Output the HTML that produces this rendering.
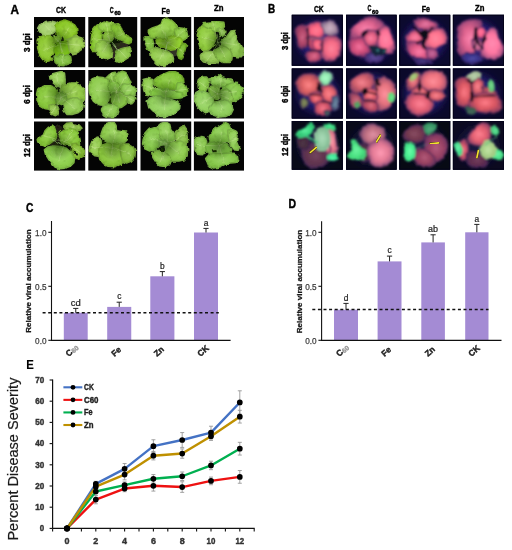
<!DOCTYPE html>
<html><head><meta charset="utf-8"><title>Figure</title>
<style>
html,body{margin:0;padding:0;background:#fff;}
body{width:512px;height:550px;overflow:hidden;}
svg{display:block;font-family:'Liberation Sans', Arial, sans-serif;}
</style></head>
<body>
<svg width="512" height="550" viewBox="0 0 512 550">
<rect width="512" height="550" fill="#fff"/>
<text x="10.6" y="13.9" font-size="12.8" font-weight="bold" text-anchor="start" fill="#000" textLength="8.5" lengthAdjust="spacingAndGlyphs"  stroke="#000" stroke-width="0.4">A</text>
<text x="267.9" y="13.1" font-size="12.8" font-weight="bold" text-anchor="start" fill="#000" textLength="7.2" lengthAdjust="spacingAndGlyphs"  stroke="#000" stroke-width="0.4">B</text>
<text x="26.1" y="211.7" font-size="12.2" font-weight="bold" text-anchor="start" fill="#000" textLength="7.4" lengthAdjust="spacingAndGlyphs"  stroke="#000" stroke-width="0.4">C</text>
<text x="288.5" y="207.5" font-size="12" font-weight="bold" text-anchor="start" fill="#000" textLength="7.6" lengthAdjust="spacingAndGlyphs"  stroke="#000" stroke-width="0.4">D</text>
<text x="26.2" y="369" font-size="12.7" font-weight="bold" text-anchor="start" fill="#000" textLength="7.6" lengthAdjust="spacingAndGlyphs" stroke="#000" stroke-width="0.1">E</text>
<text x="55.9" y="12.5" font-size="8.4" font-weight="bold" text-anchor="start" fill="#000" textLength="10" lengthAdjust="spacingAndGlyphs"  stroke="#000" stroke-width="0.4">CK</text>
<text x="109.7" y="12.5" font-size="8.6" font-weight="bold" text-anchor="start" fill="#000" textLength="3.9" lengthAdjust="spacingAndGlyphs"  stroke="#000" stroke-width="0.4">C</text>
<text x="114.4" y="14.7" font-size="5.4" font-weight="bold" text-anchor="start" fill="#000" textLength="6.4" lengthAdjust="spacingAndGlyphs"  stroke="#000" stroke-width="0.4">60</text>
<text x="161.5" y="13.7" font-size="8.6" font-weight="bold" text-anchor="start" fill="#000" textLength="8.4" lengthAdjust="spacingAndGlyphs"  stroke="#000" stroke-width="0.4">Fe</text>
<text x="213.9" y="10.9" font-size="8.2" font-weight="bold" text-anchor="start" fill="#000" textLength="9.5" lengthAdjust="spacingAndGlyphs"  stroke="#000" stroke-width="0.4">Zn</text>
<text x="313.9" y="11.85" font-size="8.2" font-weight="bold" text-anchor="start" fill="#000" textLength="9.8" lengthAdjust="spacingAndGlyphs"  stroke="#000" stroke-width="0.4">CK</text>
<text x="367.4" y="10.8" font-size="8.6" font-weight="bold" text-anchor="start" fill="#000" textLength="3.9" lengthAdjust="spacingAndGlyphs"  stroke="#000" stroke-width="0.4">C</text>
<text x="372.1" y="13.8" font-size="5.4" font-weight="bold" text-anchor="start" fill="#000" textLength="6.4" lengthAdjust="spacingAndGlyphs"  stroke="#000" stroke-width="0.4">60</text>
<text x="421.7" y="12.4" font-size="8.2" font-weight="bold" text-anchor="start" fill="#000" textLength="8.3" lengthAdjust="spacingAndGlyphs"  stroke="#000" stroke-width="0.4">Fe</text>
<text x="475" y="10.5" font-size="8.8" font-weight="bold" text-anchor="start" fill="#000" textLength="9.4" lengthAdjust="spacingAndGlyphs"  stroke="#000" stroke-width="0.4">Zn</text>
<text transform="translate(29.6,42.6) rotate(-90)" font-size="8.8" font-weight="bold" text-anchor="middle" fill="#000" textLength="18.8" lengthAdjust="spacingAndGlyphs"  stroke="#000" stroke-width="0.4">3 dpi</text>
<text transform="translate(29.6,94.4) rotate(-90)" font-size="8.8" font-weight="bold" text-anchor="middle" fill="#000" textLength="18.5" lengthAdjust="spacingAndGlyphs"  stroke="#000" stroke-width="0.4">6 dpi</text>
<text transform="translate(29.6,145.5) rotate(-90)" font-size="8.8" font-weight="bold" text-anchor="middle" fill="#000" textLength="23" lengthAdjust="spacingAndGlyphs"  stroke="#000" stroke-width="0.4">12 dpi</text>
<text transform="translate(287.6,41.1) rotate(-90)" font-size="8.8" font-weight="bold" text-anchor="middle" fill="#000" textLength="18" lengthAdjust="spacingAndGlyphs"  stroke="#000" stroke-width="0.4">3 dpi</text>
<text transform="translate(287.6,94.3) rotate(-90)" font-size="8.8" font-weight="bold" text-anchor="middle" fill="#000" textLength="17" lengthAdjust="spacingAndGlyphs"  stroke="#000" stroke-width="0.4">6 dpi</text>
<text transform="translate(287.6,144.9) rotate(-90)" font-size="8.8" font-weight="bold" text-anchor="middle" fill="#000" textLength="22" lengthAdjust="spacingAndGlyphs"  stroke="#000" stroke-width="0.4">12 dpi</text>
<rect x="34" y="17" width="51.20" height="50.20" fill="#040404"/>
<rect x="88.3" y="17" width="48.90" height="50.20" fill="#040404"/>
<rect x="140.5" y="17" width="50.70" height="50.20" fill="#040404"/>
<rect x="193.9" y="17" width="50.10" height="50.20" fill="#040404"/>
<rect x="34" y="70" width="51.20" height="48.50" fill="#040404"/>
<rect x="88.3" y="70" width="48.90" height="48.50" fill="#040404"/>
<rect x="140.5" y="70" width="50.70" height="48.50" fill="#040404"/>
<rect x="193.9" y="70" width="50.10" height="48.50" fill="#040404"/>
<rect x="34" y="121.5" width="51.20" height="49.10" fill="#040404"/>
<rect x="88.3" y="121.5" width="48.90" height="49.10" fill="#040404"/>
<rect x="140.5" y="121.5" width="50.70" height="49.10" fill="#040404"/>
<rect x="193.9" y="121.5" width="50.10" height="49.10" fill="#040404"/>
<rect x="291.8" y="14.8" width="51.00" height="50.90" fill="#0a0620"/>
<rect x="346.1" y="14.8" width="50.50" height="50.90" fill="#0a0620"/>
<rect x="399.3" y="14.8" width="50.90" height="50.90" fill="#0a0620"/>
<rect x="452.9" y="14.8" width="51.10" height="50.90" fill="#0a0620"/>
<rect x="291.8" y="68.5" width="51.00" height="50.00" fill="#0a0620"/>
<rect x="346.1" y="68.5" width="50.50" height="50.00" fill="#0a0620"/>
<rect x="399.3" y="68.5" width="50.90" height="50.00" fill="#0a0620"/>
<rect x="452.9" y="68.5" width="51.10" height="50.00" fill="#0a0620"/>
<rect x="291.8" y="121" width="51.00" height="48.70" fill="#0a0620"/>
<rect x="346.1" y="121" width="50.50" height="48.70" fill="#0a0620"/>
<rect x="399.3" y="121" width="50.90" height="48.70" fill="#0a0620"/>
<rect x="452.9" y="121" width="51.10" height="48.70" fill="#0a0620"/>
<defs><filter id="fa" x="-10%" y="-10%" width="120%" height="120%"><feGaussianBlur stdDeviation="6"/></filter><filter id="fw" x="-10%" y="-10%" width="120%" height="120%"><feTurbulence type="fractalNoise" baseFrequency="0.015" numOctaves="2" seed="3" result="n"/><feDisplacementMap in="SourceGraphic" in2="n" scale="34" xChannelSelector="R" yChannelSelector="G" result="d"/><feTurbulence type="fractalNoise" baseFrequency="0.025" numOctaves="1" seed="7" result="t"/><feColorMatrix in="t" type="matrix" values="0 0 0 0 0.05  0 0 0 0 0.12  0 0 0 0 0  1.1 0 0 0 -0.6" result="ta"/><feColorMatrix in="t" type="matrix" values="0 0 0 0 0.85  0 0 0 0 0.95  0 0 0 0 0.6  -1.0 0 0 0 0.32" result="tb"/><feComposite in="ta" in2="d" operator="in" result="tm"/><feComposite in="tb" in2="d" operator="in" result="tn"/><feMerge result="m"><feMergeNode in="d"/><feMergeNode in="tm"/><feMergeNode in="tn"/></feMerge><feGaussianBlur in="m" stdDeviation="7"/></filter><filter id="fb" x="-10%" y="-10%" width="120%" height="120%"><feTurbulence type="fractalNoise" baseFrequency="0.012" numOctaves="2" seed="11" result="n"/><feDisplacementMap in="SourceGraphic" in2="n" scale="30" xChannelSelector="R" yChannelSelector="G" result="d"/><feGaussianBlur in="d" stdDeviation="9"/></filter><filter id="fg" x="-30%" y="-30%" width="160%" height="160%"><feGaussianBlur stdDeviation="40"/></filter><radialGradient id="cshad"><stop offset="0" stop-color="#143000" stop-opacity="0.5"/><stop offset="1" stop-color="#143000" stop-opacity="0"/></radialGradient><radialGradient id="g0" cx="50%" cy="45%" r="60%"><stop offset="0" stop-color="#b6db84"/><stop offset="0.6" stop-color="#a7d16f"/><stop offset="1" stop-color="#93bc5d"/></radialGradient><radialGradient id="g1" cx="50%" cy="45%" r="60%"><stop offset="0" stop-color="#9dd344"/><stop offset="0.6" stop-color="#8cc929"/><stop offset="1" stop-color="#7ab519"/></radialGradient><radialGradient id="g2" cx="50%" cy="45%" r="60%"><stop offset="0" stop-color="#a3d756"/><stop offset="0.6" stop-color="#93cd3c"/><stop offset="1" stop-color="#80b92c"/></radialGradient><radialGradient id="g3" cx="50%" cy="45%" r="60%"><stop offset="0" stop-color="#a0d34e"/><stop offset="0.6" stop-color="#90c934"/><stop offset="1" stop-color="#7db524"/></radialGradient><radialGradient id="g4" cx="50%" cy="45%" r="60%"><stop offset="0" stop-color="#91d037"/><stop offset="0.6" stop-color="#7fc61b"/><stop offset="1" stop-color="#6db20c"/></radialGradient><radialGradient id="g5" cx="50%" cy="45%" r="60%"><stop offset="0" stop-color="#acd769"/><stop offset="0.6" stop-color="#9ccd51"/><stop offset="1" stop-color="#89b940"/></radialGradient><radialGradient id="g6" cx="50%" cy="45%" r="60%"><stop offset="0" stop-color="#92c859"/><stop offset="0.6" stop-color="#82be42"/><stop offset="1" stop-color="#71ab32"/></radialGradient><radialGradient id="g7" cx="50%" cy="45%" r="60%"><stop offset="0" stop-color="#9cd34e"/><stop offset="0.6" stop-color="#8bc934"/><stop offset="1" stop-color="#79b524"/></radialGradient><radialGradient id="g8" cx="50%" cy="45%" r="60%"><stop offset="0" stop-color="#a3d760"/><stop offset="0.6" stop-color="#92cd47"/><stop offset="1" stop-color="#7fb936"/></radialGradient><radialGradient id="g9" cx="50%" cy="45%" r="60%"><stop offset="0" stop-color="#9bd353"/><stop offset="0.6" stop-color="#8ac939"/><stop offset="1" stop-color="#78b529"/></radialGradient><radialGradient id="g10" cx="50%" cy="45%" r="60%"><stop offset="0" stop-color="#a8db5e"/><stop offset="0.6" stop-color="#97d145"/><stop offset="1" stop-color="#84bc34"/></radialGradient><radialGradient id="g11" cx="50%" cy="45%" r="60%"><stop offset="0" stop-color="#abdb68"/><stop offset="0.6" stop-color="#9bd150"/><stop offset="1" stop-color="#88bc3f"/></radialGradient><radialGradient id="g12" cx="50%" cy="45%" r="60%"><stop offset="0" stop-color="#9fd061"/><stop offset="0.6" stop-color="#8fc64a"/><stop offset="1" stop-color="#7db23a"/></radialGradient><radialGradient id="g13" cx="50%" cy="45%" r="60%"><stop offset="0" stop-color="#a3d760"/><stop offset="0.6" stop-color="#92cd47"/><stop offset="1" stop-color="#7fb936"/></radialGradient><radialGradient id="g14" cx="50%" cy="45%" r="60%"><stop offset="0" stop-color="#9ed360"/><stop offset="0.6" stop-color="#8ec948"/><stop offset="1" stop-color="#7cb538"/></radialGradient><radialGradient id="g15" cx="50%" cy="45%" r="60%"><stop offset="0" stop-color="#a5db4d"/><stop offset="0.6" stop-color="#94d131"/><stop offset="1" stop-color="#81bc21"/></radialGradient><radialGradient id="g16" cx="50%" cy="45%" r="60%"><stop offset="0" stop-color="#92cc59"/><stop offset="0.6" stop-color="#81c241"/><stop offset="1" stop-color="#6faf31"/></radialGradient><radialGradient id="g17" cx="50%" cy="45%" r="60%"><stop offset="0" stop-color="#a6d769"/><stop offset="0.6" stop-color="#96cd51"/><stop offset="1" stop-color="#83b940"/></radialGradient><radialGradient id="g18" cx="50%" cy="45%" r="60%"><stop offset="0" stop-color="#8bc347"/><stop offset="0.6" stop-color="#7bba2f"/><stop offset="1" stop-color="#6aa720"/></radialGradient><radialGradient id="g19" cx="50%" cy="45%" r="60%"><stop offset="0" stop-color="#a3d75b"/><stop offset="0.6" stop-color="#93cd42"/><stop offset="1" stop-color="#80b931"/></radialGradient><radialGradient id="g20" cx="50%" cy="45%" r="60%"><stop offset="0" stop-color="#9ed360"/><stop offset="0.6" stop-color="#8ec948"/><stop offset="1" stop-color="#7cb538"/></radialGradient><radialGradient id="g21" cx="50%" cy="45%" r="60%"><stop offset="0" stop-color="#aadb71"/><stop offset="0.6" stop-color="#9ad15a"/><stop offset="1" stop-color="#87bc48"/></radialGradient><radialGradient id="g22" cx="50%" cy="45%" r="60%"><stop offset="0" stop-color="#a2d36a"/><stop offset="0.6" stop-color="#92c953"/><stop offset="1" stop-color="#7fb542"/></radialGradient><radialGradient id="g23" cx="50%" cy="45%" r="60%"><stop offset="0" stop-color="#a6d36e"/><stop offset="0.6" stop-color="#97c958"/><stop offset="1" stop-color="#84b547"/></radialGradient><radialGradient id="g24" cx="50%" cy="45%" r="60%"><stop offset="0" stop-color="#9bcc61"/><stop offset="0.6" stop-color="#8bc24b"/><stop offset="1" stop-color="#79af3b"/></radialGradient><radialGradient id="g25" cx="50%" cy="45%" r="60%"><stop offset="0" stop-color="#aadb71"/><stop offset="0.6" stop-color="#9ad15a"/><stop offset="1" stop-color="#87bc48"/></radialGradient><radialGradient id="g26" cx="50%" cy="45%" r="60%"><stop offset="0" stop-color="#9bd357"/><stop offset="0.6" stop-color="#8ac93e"/><stop offset="1" stop-color="#78b52e"/></radialGradient><radialGradient id="g27" cx="50%" cy="45%" r="60%"><stop offset="0" stop-color="#a3d360"/><stop offset="0.6" stop-color="#93c948"/><stop offset="1" stop-color="#80b538"/></radialGradient><radialGradient id="g28" cx="50%" cy="45%" r="60%"><stop offset="0" stop-color="#9ad061"/><stop offset="0.6" stop-color="#8ac64a"/><stop offset="1" stop-color="#78b23a"/></radialGradient><radialGradient id="g29" cx="50%" cy="45%" r="60%"><stop offset="0" stop-color="#a2d36a"/><stop offset="0.6" stop-color="#92c953"/><stop offset="1" stop-color="#7fb542"/></radialGradient><radialGradient id="g30" cx="50%" cy="45%" r="60%"><stop offset="0" stop-color="#9fcc61"/><stop offset="0.6" stop-color="#90c24b"/><stop offset="1" stop-color="#7eaf3b"/></radialGradient><radialGradient id="g31" cx="50%" cy="45%" r="60%"><stop offset="0" stop-color="#a2d769"/><stop offset="0.6" stop-color="#91cd51"/><stop offset="1" stop-color="#7eb940"/></radialGradient><radialGradient id="g32" cx="50%" cy="45%" r="60%"><stop offset="0" stop-color="#9ad061"/><stop offset="0.6" stop-color="#8ac64a"/><stop offset="1" stop-color="#78b23a"/></radialGradient><radialGradient id="g33" cx="50%" cy="45%" r="60%"><stop offset="0" stop-color="#9dd364"/><stop offset="0.6" stop-color="#8dc94d"/><stop offset="1" stop-color="#7bb53c"/></radialGradient><radialGradient id="g34" cx="50%" cy="45%" r="60%"><stop offset="0" stop-color="#a2d76d"/><stop offset="0.6" stop-color="#91cd56"/><stop offset="1" stop-color="#7eb945"/></radialGradient><radialGradient id="g35" cx="50%" cy="45%" r="60%"><stop offset="0" stop-color="#9ad360"/><stop offset="0.6" stop-color="#89c948"/><stop offset="1" stop-color="#77b538"/></radialGradient><radialGradient id="g36" cx="50%" cy="45%" r="60%"><stop offset="0" stop-color="#96cc5d"/><stop offset="0.6" stop-color="#86c246"/><stop offset="1" stop-color="#74af36"/></radialGradient><radialGradient id="g37" cx="50%" cy="45%" r="60%"><stop offset="0" stop-color="#9acc66"/><stop offset="0.6" stop-color="#8ac250"/><stop offset="1" stop-color="#78af40"/></radialGradient><radialGradient id="g38" cx="50%" cy="45%" r="60%"><stop offset="0" stop-color="#9ed36a"/><stop offset="0.6" stop-color="#8dc953"/><stop offset="1" stop-color="#7bb542"/></radialGradient><radialGradient id="g39" cx="50%" cy="45%" r="60%"><stop offset="0" stop-color="#a2d769"/><stop offset="0.6" stop-color="#91cd51"/><stop offset="1" stop-color="#7eb940"/></radialGradient><radialGradient id="g40" cx="50%" cy="45%" r="60%"><stop offset="0" stop-color="#97d053"/><stop offset="0.6" stop-color="#86c63a"/><stop offset="1" stop-color="#74b22a"/></radialGradient><radialGradient id="g41" cx="50%" cy="45%" r="60%"><stop offset="0" stop-color="#9ad360"/><stop offset="0.6" stop-color="#89c948"/><stop offset="1" stop-color="#77b538"/></radialGradient><radialGradient id="g42" cx="50%" cy="45%" r="60%"><stop offset="0" stop-color="#9edb64"/><stop offset="0.6" stop-color="#8cd14b"/><stop offset="1" stop-color="#79bc3a"/></radialGradient><radialGradient id="g43" cx="50%" cy="45%" r="60%"><stop offset="0" stop-color="#a5db76"/><stop offset="0.6" stop-color="#94d15f"/><stop offset="1" stop-color="#81bc4d"/></radialGradient><radialGradient id="g44" cx="50%" cy="45%" r="60%"><stop offset="0" stop-color="#9dd364"/><stop offset="0.6" stop-color="#8dc94d"/><stop offset="1" stop-color="#7bb53c"/></radialGradient><radialGradient id="g45" cx="50%" cy="45%" r="60%"><stop offset="0" stop-color="#9ed36a"/><stop offset="0.6" stop-color="#8dc953"/><stop offset="1" stop-color="#7bb542"/></radialGradient><radialGradient id="g46" cx="50%" cy="45%" r="60%"><stop offset="0" stop-color="#99d364"/><stop offset="0.6" stop-color="#88c94d"/><stop offset="1" stop-color="#76b53c"/></radialGradient><radialGradient id="g47" cx="50%" cy="45%" r="60%"><stop offset="0" stop-color="#9ad061"/><stop offset="0.6" stop-color="#8ac64a"/><stop offset="1" stop-color="#78b23a"/></radialGradient><radialGradient id="g48" cx="50%" cy="45%" r="60%"><stop offset="0" stop-color="#9ed36a"/><stop offset="0.6" stop-color="#8dc953"/><stop offset="1" stop-color="#7bb542"/></radialGradient><radialGradient id="g49" cx="50%" cy="45%" r="60%"><stop offset="0" stop-color="#a5db76"/><stop offset="0.6" stop-color="#94d15f"/><stop offset="1" stop-color="#81bc4d"/></radialGradient><radialGradient id="g50" cx="50%" cy="45%" r="60%"><stop offset="0" stop-color="#a1d772"/><stop offset="0.6" stop-color="#90cd5c"/><stop offset="1" stop-color="#7db94b"/></radialGradient><radialGradient id="g51" cx="50%" cy="45%" r="60%"><stop offset="0" stop-color="#9bd357"/><stop offset="0.6" stop-color="#8ac93e"/><stop offset="1" stop-color="#78b52e"/></radialGradient><radialGradient id="g52" cx="50%" cy="45%" r="60%"><stop offset="0" stop-color="#9fcc61"/><stop offset="0.6" stop-color="#90c24b"/><stop offset="1" stop-color="#7eaf3b"/></radialGradient><radialGradient id="g53" cx="50%" cy="45%" r="60%"><stop offset="0" stop-color="#9bd357"/><stop offset="0.6" stop-color="#8ac93e"/><stop offset="1" stop-color="#78b52e"/></radialGradient><radialGradient id="g54" cx="50%" cy="45%" r="60%"><stop offset="0" stop-color="#97c850"/><stop offset="0.6" stop-color="#88be38"/><stop offset="1" stop-color="#77ab29"/></radialGradient><radialGradient id="g55" cx="50%" cy="45%" r="60%"><stop offset="0" stop-color="#a1db68"/><stop offset="0.6" stop-color="#90d150"/><stop offset="1" stop-color="#7dbc3f"/></radialGradient><radialGradient id="g56" cx="50%" cy="45%" r="60%"><stop offset="0" stop-color="#a2d769"/><stop offset="0.6" stop-color="#91cd51"/><stop offset="1" stop-color="#7eb940"/></radialGradient><radialGradient id="g57" cx="50%" cy="45%" r="60%"><stop offset="0" stop-color="#a6d769"/><stop offset="0.6" stop-color="#96cd51"/><stop offset="1" stop-color="#83b940"/></radialGradient><radialGradient id="g58" cx="50%" cy="45%" r="60%"><stop offset="0" stop-color="#9bd057"/><stop offset="0.6" stop-color="#8bc63f"/><stop offset="1" stop-color="#79b22f"/></radialGradient><radialGradient id="g59" cx="50%" cy="45%" r="60%"><stop offset="0" stop-color="#96c859"/><stop offset="0.6" stop-color="#87be42"/><stop offset="1" stop-color="#76ab32"/></radialGradient><radialGradient id="g60" cx="50%" cy="45%" r="60%"><stop offset="0" stop-color="#99d364"/><stop offset="0.6" stop-color="#88c94d"/><stop offset="1" stop-color="#76b53c"/></radialGradient><radialGradient id="g61" cx="50%" cy="45%" r="60%"><stop offset="0" stop-color="#a2d76d"/><stop offset="0.6" stop-color="#91cd56"/><stop offset="1" stop-color="#7eb945"/></radialGradient><radialGradient id="g62" cx="50%" cy="45%" r="60%"><stop offset="0" stop-color="#9bcc61"/><stop offset="0.6" stop-color="#8bc24b"/><stop offset="1" stop-color="#79af3b"/></radialGradient><radialGradient id="g63" cx="50%" cy="45%" r="60%"><stop offset="0" stop-color="#a2d769"/><stop offset="0.6" stop-color="#91cd51"/><stop offset="1" stop-color="#7eb940"/></radialGradient><radialGradient id="g64" cx="50%" cy="45%" r="60%"><stop offset="0" stop-color="#9dd364"/><stop offset="0.6" stop-color="#8dc94d"/><stop offset="1" stop-color="#7bb53c"/></radialGradient><radialGradient id="g65" cx="50%" cy="45%" r="60%"><stop offset="0" stop-color="#a9e07a"/><stop offset="0.6" stop-color="#98d563"/><stop offset="1" stop-color="#84c051"/></radialGradient><radialGradient id="g66" cx="50%" cy="45%" r="60%"><stop offset="0" stop-color="#99d364"/><stop offset="0.6" stop-color="#88c94d"/><stop offset="1" stop-color="#76b53c"/></radialGradient><radialGradient id="g67" cx="50%" cy="45%" r="60%"><stop offset="0" stop-color="#9ed36a"/><stop offset="0.6" stop-color="#8dc953"/><stop offset="1" stop-color="#7bb542"/></radialGradient><radialGradient id="g68" cx="50%" cy="45%" r="60%"><stop offset="0" stop-color="#a2d76d"/><stop offset="0.6" stop-color="#91cd56"/><stop offset="1" stop-color="#7eb945"/></radialGradient><radialGradient id="g69" cx="50%" cy="45%" r="60%"><stop offset="0" stop-color="#95d061"/><stop offset="0.6" stop-color="#84c64a"/><stop offset="1" stop-color="#72b23a"/></radialGradient><radialGradient id="g70" cx="50%" cy="45%" r="60%"><stop offset="0" stop-color="#99d364"/><stop offset="0.6" stop-color="#88c94d"/><stop offset="1" stop-color="#76b53c"/></radialGradient><radialGradient id="g71" cx="50%" cy="50%" r="60%"><stop offset="0" stop-color="#cc6485"/><stop offset="0.5" stop-color="#b04668"/><stop offset="1" stop-color="#6f3260"/></radialGradient><radialGradient id="g72" cx="50%" cy="50%" r="60%"><stop offset="0" stop-color="#ff7c94"/><stop offset="0.5" stop-color="#ff6581"/><stop offset="1" stop-color="#93406c"/></radialGradient><radialGradient id="g73" cx="50%" cy="50%" r="60%"><stop offset="0" stop-color="#ccb3c5"/><stop offset="0.5" stop-color="#b096a9"/><stop offset="1" stop-color="#6f567e"/></radialGradient><radialGradient id="g74" cx="50%" cy="50%" r="60%"><stop offset="0" stop-color="#f5738d"/><stop offset="0.5" stop-color="#d34f6a"/><stop offset="1" stop-color="#803661"/></radialGradient><radialGradient id="g75" cx="50%" cy="50%" r="60%"><stop offset="0" stop-color="#ff7c94"/><stop offset="0.5" stop-color="#f6617c"/><stop offset="1" stop-color="#8f3e6a"/></radialGradient><radialGradient id="g76" cx="50%" cy="50%" r="60%"><stop offset="0" stop-color="#ff849b"/><stop offset="0.5" stop-color="#f66a85"/><stop offset="1" stop-color="#8f426d"/></radialGradient><radialGradient id="g77" cx="50%" cy="50%" r="60%"><stop offset="0" stop-color="#e17091"/><stop offset="0.5" stop-color="#c24f71"/><stop offset="1" stop-color="#783664"/></radialGradient><radialGradient id="g78" cx="50%" cy="50%" r="60%"><stop offset="0" stop-color="#ff86b0"/><stop offset="0.5" stop-color="#dc618c"/><stop offset="1" stop-color="#843e71"/></radialGradient><radialGradient id="g79" cx="50%" cy="50%" r="60%"><stop offset="0" stop-color="#ff87a6"/><stop offset="0.5" stop-color="#ff7296"/><stop offset="1" stop-color="#934675"/></radialGradient><radialGradient id="g80" cx="50%" cy="50%" r="60%"><stop offset="0" stop-color="#f5739e"/><stop offset="0.5" stop-color="#d34f7b"/><stop offset="1" stop-color="#803669"/></radialGradient><radialGradient id="g81" cx="50%" cy="50%" r="60%"><stop offset="0" stop-color="#ff82a3"/><stop offset="0.5" stop-color="#e56184"/><stop offset="1" stop-color="#883e6d"/></radialGradient><radialGradient id="g82" cx="50%" cy="50%" r="60%"><stop offset="0" stop-color="#624f99"/><stop offset="0.5" stop-color="#4c3984"/><stop offset="1" stop-color="#422c6d"/></radialGradient><radialGradient id="g83" cx="50%" cy="50%" r="60%"><stop offset="0" stop-color="#ea7aa4"/><stop offset="0.5" stop-color="#ca5883"/><stop offset="1" stop-color="#7b3a6d"/></radialGradient><radialGradient id="g84" cx="50%" cy="50%" r="60%"><stop offset="0" stop-color="#ff82a3"/><stop offset="0.5" stop-color="#e56184"/><stop offset="1" stop-color="#883e6d"/></radialGradient><radialGradient id="g85" cx="50%" cy="50%" r="60%"><stop offset="0" stop-color="#ff879e"/><stop offset="0.5" stop-color="#ff728d"/><stop offset="1" stop-color="#934671"/></radialGradient><radialGradient id="g86" cx="50%" cy="50%" r="60%"><stop offset="0" stop-color="#ff7da8"/><stop offset="0.5" stop-color="#dc5884"/><stop offset="1" stop-color="#843a6d"/></radialGradient><radialGradient id="g87" cx="50%" cy="50%" r="60%"><stop offset="0" stop-color="#cc6d9f"/><stop offset="0.5" stop-color="#b04f82"/><stop offset="1" stop-color="#6f366c"/></radialGradient><radialGradient id="g88" cx="50%" cy="50%" r="60%"><stop offset="0" stop-color="#4e3f84"/><stop offset="0.5" stop-color="#3b2c72"/><stop offset="1" stop-color="#3a2665"/></radialGradient><radialGradient id="g89" cx="50%" cy="50%" r="60%"><stop offset="0" stop-color="#ff86b0"/><stop offset="0.5" stop-color="#dc618c"/><stop offset="1" stop-color="#843e71"/></radialGradient><radialGradient id="g90" cx="50%" cy="50%" r="60%"><stop offset="0" stop-color="#ff8bb0"/><stop offset="0.5" stop-color="#ff77a2"/><stop offset="1" stop-color="#93487a"/></radialGradient><radialGradient id="g91" cx="50%" cy="50%" r="60%"><stop offset="0" stop-color="#ff7a9f"/><stop offset="0.5" stop-color="#ff638e"/><stop offset="1" stop-color="#933f71"/></radialGradient><radialGradient id="g92" cx="50%" cy="50%" r="60%"><stop offset="0" stop-color="#524da4"/><stop offset="0.5" stop-color="#3a358d"/><stop offset="1" stop-color="#3a2a71"/></radialGradient><radialGradient id="g93" cx="50%" cy="50%" r="60%"><stop offset="0" stop-color="#e181aa"/><stop offset="0.5" stop-color="#c2618a"/><stop offset="1" stop-color="#783e70"/></radialGradient><radialGradient id="g94" cx="50%" cy="50%" r="60%"><stop offset="0" stop-color="#acffc9"/><stop offset="0.5" stop-color="#8de5ac"/><stop offset="1" stop-color="#607a7f"/></radialGradient><radialGradient id="g95" cx="50%" cy="50%" r="60%"><stop offset="0" stop-color="#ff8688"/><stop offset="0.5" stop-color="#dc6163"/><stop offset="1" stop-color="#843e5e"/></radialGradient><radialGradient id="g96" cx="50%" cy="50%" r="60%"><stop offset="0" stop-color="#ff848c"/><stop offset="0.5" stop-color="#e5636c"/><stop offset="1" stop-color="#883f62"/></radialGradient><radialGradient id="g97" cx="50%" cy="50%" r="60%"><stop offset="0" stop-color="#ff7d88"/><stop offset="0.5" stop-color="#dc5863"/><stop offset="1" stop-color="#843a5e"/></radialGradient><radialGradient id="g98" cx="50%" cy="50%" r="60%"><stop offset="0" stop-color="#f5788b"/><stop offset="0.5" stop-color="#d35468"/><stop offset="1" stop-color="#803960"/></radialGradient><radialGradient id="g99" cx="50%" cy="50%" r="60%"><stop offset="0" stop-color="#868f63"/><stop offset="0.5" stop-color="#727b4f"/><stop offset="1" stop-color="#544a55"/></radialGradient><radialGradient id="g100" cx="50%" cy="50%" r="60%"><stop offset="0" stop-color="#6f89a4"/><stop offset="0.5" stop-color="#58728d"/><stop offset="1" stop-color="#484671"/></radialGradient><radialGradient id="g101" cx="50%" cy="50%" r="60%"><stop offset="0" stop-color="#50736a"/><stop offset="0.5" stop-color="#40635a"/><stop offset="1" stop-color="#3d3f5a"/></radialGradient><radialGradient id="g102" cx="50%" cy="50%" r="60%"><stop offset="0" stop-color="#f58490"/><stop offset="0.5" stop-color="#d3616d"/><stop offset="1" stop-color="#803e62"/></radialGradient><radialGradient id="g103" cx="50%" cy="50%" r="60%"><stop offset="0" stop-color="#ff929e"/><stop offset="0.5" stop-color="#e5727e"/><stop offset="1" stop-color="#88466a"/></radialGradient><radialGradient id="g104" cx="50%" cy="50%" r="60%"><stop offset="0" stop-color="#ff828c"/><stop offset="0.5" stop-color="#e5616c"/><stop offset="1" stop-color="#883e62"/></radialGradient><radialGradient id="g105" cx="50%" cy="50%" r="60%"><stop offset="0" stop-color="#cc6d82"/><stop offset="0.5" stop-color="#b04f65"/><stop offset="1" stop-color="#6f365f"/></radialGradient><radialGradient id="g106" cx="50%" cy="50%" r="60%"><stop offset="0" stop-color="#e17084"/><stop offset="0.5" stop-color="#c24f64"/><stop offset="1" stop-color="#78365e"/></radialGradient><radialGradient id="g107" cx="50%" cy="50%" r="60%"><stop offset="0" stop-color="#7dee99"/><stop offset="0.6" stop-color="#58d878"/><stop offset="1" stop-color="#42a25a"/></radialGradient><radialGradient id="g108" cx="50%" cy="50%" r="60%"><stop offset="0" stop-color="#6ab078"/><stop offset="0.6" stop-color="#50a060"/><stop offset="1" stop-color="#3c7848"/></radialGradient><radialGradient id="g109" cx="50%" cy="50%" r="60%"><stop offset="0" stop-color="#f58490"/><stop offset="0.5" stop-color="#d3616d"/><stop offset="1" stop-color="#803e62"/></radialGradient><radialGradient id="g110" cx="50%" cy="50%" r="60%"><stop offset="0" stop-color="#b7d38d"/><stop offset="0.6" stop-color="#a0c070"/><stop offset="1" stop-color="#789054"/></radialGradient><radialGradient id="g111" cx="50%" cy="50%" r="60%"><stop offset="0" stop-color="#ff8e99"/><stop offset="0.5" stop-color="#ee727e"/><stop offset="1" stop-color="#8c466a"/></radialGradient><radialGradient id="g112" cx="50%" cy="50%" r="60%"><stop offset="0" stop-color="#ff8691"/><stop offset="0.5" stop-color="#dc616c"/><stop offset="1" stop-color="#843e62"/></radialGradient><radialGradient id="g113" cx="50%" cy="50%" r="60%"><stop offset="0" stop-color="#ff8691"/><stop offset="0.5" stop-color="#dc616c"/><stop offset="1" stop-color="#843e62"/></radialGradient><radialGradient id="g114" cx="50%" cy="50%" r="60%"><stop offset="0" stop-color="#ff8295"/><stop offset="0.5" stop-color="#e56175"/><stop offset="1" stop-color="#883e66"/></radialGradient><radialGradient id="g115" cx="50%" cy="50%" r="60%"><stop offset="0" stop-color="#bed3b0"/><stop offset="0.6" stop-color="#a8c098"/><stop offset="1" stop-color="#7e9072"/></radialGradient><radialGradient id="g116" cx="50%" cy="50%" r="60%"><stop offset="0" stop-color="#ff7d88"/><stop offset="0.5" stop-color="#dc5863"/><stop offset="1" stop-color="#843a5e"/></radialGradient><radialGradient id="g117" cx="50%" cy="50%" r="60%"><stop offset="0" stop-color="#ff8691"/><stop offset="0.5" stop-color="#dc616c"/><stop offset="1" stop-color="#843e62"/></radialGradient><radialGradient id="g118" cx="50%" cy="50%" r="60%"><stop offset="0" stop-color="#cc6d79"/><stop offset="0.5" stop-color="#b04f5c"/><stop offset="1" stop-color="#6f365b"/></radialGradient><radialGradient id="g119" cx="50%" cy="50%" r="60%"><stop offset="0" stop-color="#ff7d88"/><stop offset="0.5" stop-color="#dc5863"/><stop offset="1" stop-color="#843a5e"/></radialGradient><radialGradient id="g120" cx="50%" cy="50%" r="60%"><stop offset="0" stop-color="#80dc96"/><stop offset="0.6" stop-color="#60c878"/><stop offset="1" stop-color="#48965a"/></radialGradient><radialGradient id="g121" cx="50%" cy="50%" r="60%"><stop offset="0" stop-color="#486a5c"/><stop offset="0.6" stop-color="#3a6050"/><stop offset="1" stop-color="#2c483c"/></radialGradient><radialGradient id="g122" cx="50%" cy="50%" r="60%"><stop offset="0" stop-color="#73455f"/><stop offset="0.5" stop-color="#63354f"/><stop offset="1" stop-color="#4c2a55"/></radialGradient><radialGradient id="g123" cx="50%" cy="50%" r="60%"><stop offset="0" stop-color="#513849"/><stop offset="0.5" stop-color="#462c3e"/><stop offset="1" stop-color="#3f264d"/></radialGradient><radialGradient id="g124" cx="50%" cy="50%" r="60%"><stop offset="0" stop-color="#ff9bac"/><stop offset="0.5" stop-color="#e57b8d"/><stop offset="1" stop-color="#884a71"/></radialGradient><radialGradient id="g125" cx="50%" cy="50%" r="60%"><stop offset="0" stop-color="#ea839c"/><stop offset="0.5" stop-color="#ca617b"/><stop offset="1" stop-color="#7b3e69"/></radialGradient><radialGradient id="g126" cx="50%" cy="50%" r="60%"><stop offset="0" stop-color="#abdcb9"/><stop offset="0.6" stop-color="#90c8a0"/><stop offset="1" stop-color="#6c9678"/></radialGradient><radialGradient id="g127" cx="50%" cy="50%" r="60%"><stop offset="0" stop-color="#61eea0"/><stop offset="0.6" stop-color="#38d880"/><stop offset="1" stop-color="#2aa260"/></radialGradient><radialGradient id="g128" cx="50%" cy="50%" r="60%"><stop offset="0" stop-color="#61eea0"/><stop offset="0.6" stop-color="#38d880"/><stop offset="1" stop-color="#2aa260"/></radialGradient><radialGradient id="g129" cx="50%" cy="50%" r="60%"><stop offset="0" stop-color="#6bffb9"/><stop offset="0.6" stop-color="#40e898"/><stop offset="1" stop-color="#30ae72"/></radialGradient><radialGradient id="g130" cx="50%" cy="50%" r="60%"><stop offset="0" stop-color="#e192a4"/><stop offset="0.5" stop-color="#c27284"/><stop offset="1" stop-color="#78466d"/></radialGradient><radialGradient id="g131" cx="50%" cy="50%" r="60%"><stop offset="0" stop-color="#5e3b53"/><stop offset="0.5" stop-color="#512e46"/><stop offset="1" stop-color="#452751"/></radialGradient><radialGradient id="g132" cx="50%" cy="50%" r="60%"><stop offset="0" stop-color="#ff9bb4"/><stop offset="0.5" stop-color="#e57b96"/><stop offset="1" stop-color="#884a75"/></radialGradient><radialGradient id="g133" cx="50%" cy="50%" r="60%"><stop offset="0" stop-color="#71f6a2"/><stop offset="0.6" stop-color="#48e080"/><stop offset="1" stop-color="#36a860"/></radialGradient><radialGradient id="g134" cx="50%" cy="50%" r="60%"><stop offset="0" stop-color="#884d62"/><stop offset="0.5" stop-color="#75394f"/><stop offset="1" stop-color="#552c55"/></radialGradient><radialGradient id="g135" cx="50%" cy="50%" r="60%"><stop offset="0" stop-color="#55a97d"/><stop offset="0.6" stop-color="#3a9a68"/><stop offset="1" stop-color="#2b734e"/></radialGradient><radialGradient id="g136" cx="50%" cy="50%" r="60%"><stop offset="0" stop-color="#b35c7e"/><stop offset="0.5" stop-color="#9a4265"/><stop offset="1" stop-color="#66305f"/></radialGradient><radialGradient id="g137" cx="50%" cy="50%" r="60%"><stop offset="0" stop-color="#b35c7a"/><stop offset="0.5" stop-color="#9a4261"/><stop offset="1" stop-color="#66305d"/></radialGradient><radialGradient id="g138" cx="50%" cy="50%" r="60%"><stop offset="0" stop-color="#70ffad"/><stop offset="0.6" stop-color="#48f090"/><stop offset="1" stop-color="#36b46c"/></radialGradient><radialGradient id="g139" cx="50%" cy="50%" r="60%"><stop offset="0" stop-color="#ff8292"/><stop offset="0.5" stop-color="#e56172"/><stop offset="1" stop-color="#883e65"/></radialGradient><radialGradient id="g140" cx="50%" cy="50%" r="60%"><stop offset="0" stop-color="#f5788d"/><stop offset="0.5" stop-color="#d3546a"/><stop offset="1" stop-color="#803961"/></radialGradient><radialGradient id="g141" cx="50%" cy="50%" r="60%"><stop offset="0" stop-color="#733f5f"/><stop offset="0.5" stop-color="#632e4f"/><stop offset="1" stop-color="#4c2755"/></radialGradient><radialGradient id="g142" cx="50%" cy="50%" r="60%"><stop offset="0" stop-color="#71f6b0"/><stop offset="0.6" stop-color="#48e090"/><stop offset="1" stop-color="#36a86c"/></radialGradient><radialGradient id="g143" cx="50%" cy="50%" r="60%"><stop offset="0" stop-color="#6de59e"/><stop offset="0.6" stop-color="#48d080"/><stop offset="1" stop-color="#369c60"/></radialGradient><radialGradient id="g144" cx="50%" cy="50%" r="60%"><stop offset="0" stop-color="#71f6a9"/><stop offset="0.6" stop-color="#48e088"/><stop offset="1" stop-color="#36a866"/></radialGradient><radialGradient id="g145" cx="50%" cy="50%" r="60%"><stop offset="0" stop-color="#c2e5a5"/><stop offset="0.6" stop-color="#a8d088"/><stop offset="1" stop-color="#7e9c66"/></radialGradient></defs>
<clipPath id="ca00"><rect x="34" y="17" width="51.20" height="50.20"/></clipPath>
<g clip-path="url(#ca00)"><g transform="translate(34,17) scale(0.10156)" filter="url(#fw)">
<polygon fill="url(#g0)" stroke="#90b45f" stroke-width="14" stroke-linejoin="round" points="46.2,109.0 68.2,70.5 117.7,43.0 167.2,37.5 222.2,54.0 244.2,87.0 233.2,131.0 194.7,153.0 172.7,180.5 150.7,191.5 106.7,191.5 79.2,169.5 51.7,142.0"/>
<polygon fill="url(#g1)" stroke="#78ad23" stroke-width="14" stroke-linejoin="round" points="215.2,74.0 253.7,46.5 308.7,30.0 352.7,46.5 402.2,79.5 429.7,123.5 435.2,167.5 407.7,206.0 363.7,233.5 308.7,250.0 264.7,233.5 237.2,189.5 220.7,140.0"/>
<polygon fill="#101408" points="165,175 200,165 215,200 205,250 185,265 170,230"/>
<polygon fill="#101408" points="265,205 300,205 305,235 275,240"/>
<polygon fill="url(#g2)" stroke="#7eb034" stroke-width="14" stroke-linejoin="round" points="196.7,186.7 240.7,181.2 268.2,214.2 262.7,252.7 229.7,263.7 202.2,241.7"/>
<polygon fill="url(#g3)" stroke="#7cad2d" stroke-width="14" stroke-linejoin="round" points="31.1,238.1 53.1,199.6 97.1,183.1 152.1,183.1 185.1,205.1 201.6,254.6 207.1,298.6 190.6,342.6 168.6,386.6 185.1,419.6 163.1,441.6 124.6,447.1 86.1,419.6 53.1,375.6 36.6,320.6"/>
<polygon fill="url(#g4)" stroke="#6daa17" stroke-width="14" stroke-linejoin="round" points="203.3,275.5 236.3,253.5 291.3,248.0 335.3,264.5 357.3,297.5 351.8,347.0 324.3,385.5 291.3,402.0 247.3,402.0 214.3,374.5 197.8,330.5"/>
<polygon fill="url(#g5)" stroke="#86b046" stroke-width="14" stroke-linejoin="round" points="332.6,220.1 376.6,198.1 431.6,192.6 475.6,209.1 497.6,247.6 486.6,291.6 464.6,324.6 420.6,352.1 382.1,363.1 349.1,335.6 338.1,280.6"/>
<polygon fill="url(#g6)" stroke="#70a339" stroke-width="14" stroke-linejoin="round" points="196.8,386.9 235.3,375.9 290.4,381.4 334.4,370.4 361.9,392.4 367.4,430.9 339.9,463.9 290.4,480.4 240.8,474.9 207.8,447.4"/>
<line x1="258" y1="260" x2="114" y2="85" stroke="#d8f0a8" stroke-width="6" stroke-opacity="0.55" stroke-linecap="round"/>
<line x1="258" y1="260" x2="339" y2="110" stroke="#d8f0a8" stroke-width="6" stroke-opacity="0.55" stroke-linecap="round"/>
<line x1="258" y1="260" x2="227" y2="214" stroke="#d8f0a8" stroke-width="6" stroke-opacity="0.55" stroke-linecap="round"/>
<line x1="258" y1="260" x2="97" y2="328" stroke="#d8f0a8" stroke-width="6" stroke-opacity="0.55" stroke-linecap="round"/>
<line x1="258" y1="260" x2="282" y2="342" stroke="#d8f0a8" stroke-width="6" stroke-opacity="0.55" stroke-linecap="round"/>
<line x1="258" y1="260" x2="453" y2="278" stroke="#d8f0a8" stroke-width="6" stroke-opacity="0.55" stroke-linecap="round"/>
<line x1="258" y1="260" x2="294" y2="461" stroke="#d8f0a8" stroke-width="6" stroke-opacity="0.55" stroke-linecap="round"/>
</g>
<ellipse cx="59.6" cy="42.1" rx="14" ry="14" fill="url(#cshad)"/>
</g>
<clipPath id="ca01"><rect x="88.3" y="17" width="48.90" height="50.20"/></clipPath>
<g clip-path="url(#ca01)"><g transform="translate(88,17) scale(0.10156)" filter="url(#fw)">
<polygon fill="#2e2820" points="210,300 260,260 320,250 380,255 400,290 390,330 340,360 300,390 250,410 220,400 205,360"/>
<polygon fill="url(#g7)" stroke="#78ad2d" stroke-width="14" stroke-linejoin="round" points="35.9,187.3 52.4,121.3 74.4,93.8 112.9,88.3 134.9,121.3 140.4,176.3 129.4,231.3 101.9,264.3 96.4,308.3 74.4,341.3 41.4,341.3 24.9,297.3 30.4,242.3"/>
<polygon fill="url(#g8)" stroke="#7eb03d" stroke-width="14" stroke-linejoin="round" points="97.1,83.6 124.6,56.1 157.6,39.6 201.6,50.6 245.6,56.1 273.1,83.6 262.1,122.1 240.1,144.1 201.6,155.1 163.1,144.1 135.6,133.1 108.1,116.6"/>
<polygon fill="url(#g9)" stroke="#77ad31" stroke-width="14" stroke-linejoin="round" points="236.2,87.5 263.7,71.0 296.7,65.5 318.7,82.0 335.2,126.0 362.7,175.5 406.7,197.5 439.7,219.5 434.2,252.5 401.2,263.5 351.7,247.0 307.7,230.5 269.2,203.0 241.7,159.0"/>
<polygon fill="url(#g10)" stroke="#82b43b" stroke-width="14" stroke-linejoin="round" points="150.7,183.8 167.2,156.3 200.2,145.3 233.2,156.3 249.7,189.3 244.2,227.8 211.2,249.8 172.7,244.3 150.7,216.8"/>
<polygon fill="url(#g11)" stroke="#85b445" stroke-width="14" stroke-linejoin="round" points="77.6,264.8 105.1,237.3 149.1,226.3 193.1,242.8 220.6,281.3 237.1,319.8 231.6,363.8 220.6,402.3 176.6,418.8 127.1,407.8 94.1,374.8 72.1,319.8"/>
<polygon fill="url(#g12)" stroke="#7baa40" stroke-width="14" stroke-linejoin="round" points="273.4,337.2 317.4,315.2 372.4,298.7 410.9,293.2 427.4,326.2 416.4,370.2 394.4,403.2 350.4,430.7 306.4,447.2 278.9,436.2 262.4,392.2"/>
<line x1="240" y1="250" x2="300" y2="330" stroke="#b8e090" stroke-width="9" stroke-linecap="round"/>
<line x1="217" y1="229" x2="47" y2="214" stroke="#d8f0a8" stroke-width="6" stroke-opacity="0.55" stroke-linecap="round"/>
<line x1="217" y1="229" x2="176" y2="66" stroke="#d8f0a8" stroke-width="6" stroke-opacity="0.55" stroke-linecap="round"/>
<line x1="217" y1="229" x2="362" y2="155" stroke="#d8f0a8" stroke-width="6" stroke-opacity="0.55" stroke-linecap="round"/>
<line x1="217" y1="229" x2="193" y2="189" stroke="#d8f0a8" stroke-width="6" stroke-opacity="0.55" stroke-linecap="round"/>
<line x1="217" y1="229" x2="144" y2="345" stroke="#d8f0a8" stroke-width="6" stroke-opacity="0.55" stroke-linecap="round"/>
<line x1="217" y1="229" x2="379" y2="403" stroke="#d8f0a8" stroke-width="6" stroke-opacity="0.55" stroke-linecap="round"/>
</g>
<ellipse cx="112.8" cy="42.1" rx="14" ry="14" fill="url(#cshad)"/>
</g>
<clipPath id="ca02"><rect x="140.5" y="17" width="50.70" height="50.20"/></clipPath>
<g clip-path="url(#ca02)"><g transform="translate(140,17) scale(0.10156)" filter="url(#fw)">
<polygon fill="#303028" points="260,300 320,310 380,320 380,380 330,390 280,360"/>
<polygon fill="url(#g13)" stroke="#7eb03d" stroke-width="14" stroke-linejoin="round" points="82.1,129.7 120.6,107.7 170.1,91.2 208.6,69.2 225.1,19.7 263.6,8.7 307.6,30.7 346.1,63.7 362.6,107.7 357.1,151.7 329.6,195.7 296.6,228.7 252.6,228.7 219.6,206.7 175.6,206.7 131.6,206.7 98.6,184.7 82.1,157.2"/>
<polygon fill="url(#g14)" stroke="#7aad3e" stroke-width="14" stroke-linejoin="round" points="339.2,120.7 377.7,104.2 421.7,109.7 460.2,137.2 471.2,181.2 454.7,219.7 421.7,236.2 388.7,219.7 355.7,192.2 339.2,159.2"/>
<polygon fill="url(#g15)" stroke="#7fb42a" stroke-width="14" stroke-linejoin="round" points="157.8,227.9 190.8,211.4 234.8,211.4 267.8,227.9 289.8,194.9 322.8,183.9 355.8,194.9 399.8,205.9 427.3,238.9 421.8,282.9 388.8,304.9 344.8,321.4 300.8,326.9 267.8,304.9 234.8,288.4 190.8,288.4 163.3,260.9"/>
<polygon fill="url(#g16)" stroke="#6fa738" stroke-width="14" stroke-linejoin="round" points="40.6,210.3 68.1,193.8 101.1,193.8 123.1,215.8 134.1,259.8 128.6,303.8 117.6,336.8 95.6,342.3 73.6,314.8 57.1,270.8 40.6,237.8"/>
<polygon fill="url(#g17)" stroke="#81b046" stroke-width="14" stroke-linejoin="round" points="94.3,324.7 121.8,308.2 165.8,302.7 209.8,313.7 253.8,324.7 286.8,346.7 319.8,374.2 330.8,412.7 308.8,445.7 264.8,467.7 215.3,478.7 165.8,462.2 127.3,423.7 99.8,379.7"/>
<polygon fill="url(#g18)" stroke="#6aa028" stroke-width="14" stroke-linejoin="round" points="376.7,307.5 409.7,274.5 442.7,258.0 459.2,274.5 442.7,329.5 426.2,384.5 409.7,417.5 382.2,406.5 365.7,362.5"/>
<line x1="250" y1="330" x2="265" y2="270" stroke="#b0d888" stroke-width="9" stroke-linecap="round"/>
<line x1="272" y1="255" x2="212" y2="102" stroke="#d8f0a8" stroke-width="6" stroke-opacity="0.55" stroke-linecap="round"/>
<line x1="272" y1="255" x2="436" y2="146" stroke="#d8f0a8" stroke-width="6" stroke-opacity="0.55" stroke-linecap="round"/>
<line x1="272" y1="255" x2="297" y2="250" stroke="#d8f0a8" stroke-width="6" stroke-opacity="0.55" stroke-linecap="round"/>
<line x1="272" y1="255" x2="43" y2="263" stroke="#d8f0a8" stroke-width="6" stroke-opacity="0.55" stroke-linecap="round"/>
<line x1="272" y1="255" x2="197" y2="415" stroke="#d8f0a8" stroke-width="6" stroke-opacity="0.55" stroke-linecap="round"/>
<line x1="272" y1="255" x2="448" y2="355" stroke="#d8f0a8" stroke-width="6" stroke-opacity="0.55" stroke-linecap="round"/>
</g>
<ellipse cx="165.8" cy="42.1" rx="14" ry="14" fill="url(#cshad)"/>
</g>
<clipPath id="ca03"><rect x="193.9" y="17" width="50.10" height="50.20"/></clipPath>
<g clip-path="url(#ca03)"><g transform="translate(193,17) scale(0.10156)" filter="url(#fw)">
<polygon fill="#151a10" points="200,160 245,185 290,250 280,300 240,300 215,250"/>
<polygon fill="url(#g19)" stroke="#7eb039" stroke-width="14" stroke-linejoin="round" points="41.7,188.0 52.7,133.0 80.2,100.0 129.7,89.0 173.7,100.0 206.7,133.0 223.2,177.0 217.7,232.0 201.2,276.0 173.7,309.0 140.7,331.0 96.7,331.0 69.2,298.0 52.7,243.0"/>
<polygon fill="url(#g20)" stroke="#7aad3e" stroke-width="14" stroke-linejoin="round" points="89.6,57.3 144.6,51.8 199.6,46.3 254.6,46.3 304.1,51.8 309.6,84.8 287.6,117.8 254.6,134.3 210.6,145.3 172.1,123.3 122.6,101.3 95.1,79.3"/>
<polygon fill="url(#g21)" stroke="#84b44d" stroke-width="14" stroke-linejoin="round" points="246.6,117.1 274.1,106.1 301.6,111.6 323.6,139.1 318.1,177.6 296.1,194.1 263.1,188.6 246.6,155.6"/>
<polygon fill="url(#g22)" stroke="#7ead47" stroke-width="14" stroke-linejoin="round" points="279.9,248.1 312.9,215.1 351.4,165.6 373.4,138.1 406.4,132.6 422.9,160.1 428.4,204.1 455.9,259.1 483.4,314.1 494.4,358.1 477.9,391.1 433.9,391.1 389.9,380.1 351.4,347.1 312.9,314.1 285.4,292.1"/>
<polygon fill="url(#g23)" stroke="#82ad4c" stroke-width="14" stroke-linejoin="round" points="71.8,378.3 93.8,345.3 137.8,334.3 181.8,339.8 225.8,361.8 253.3,400.3 253.3,438.8 220.3,455.3 159.8,455.3 104.8,444.3 77.3,416.8"/>
<polygon fill="url(#g24)" stroke="#78a741" stroke-width="14" stroke-linejoin="round" points="201.0,337.2 234.0,304.2 278.0,282.2 322.0,293.2 366.0,326.2 388.0,370.2 382.5,419.7 355.0,447.2 300.0,447.2 256.0,425.2 223.0,392.2"/>
<line x1="246" y1="247" x2="105" y2="201" stroke="#d8f0a8" stroke-width="6" stroke-opacity="0.55" stroke-linecap="round"/>
<line x1="246" y1="247" x2="193" y2="47" stroke="#d8f0a8" stroke-width="6" stroke-opacity="0.55" stroke-linecap="round"/>
<line x1="246" y1="247" x2="293" y2="124" stroke="#d8f0a8" stroke-width="6" stroke-opacity="0.55" stroke-linecap="round"/>
<line x1="246" y1="247" x2="428" y2="275" stroke="#d8f0a8" stroke-width="6" stroke-opacity="0.55" stroke-linecap="round"/>
<line x1="246" y1="247" x2="141" y2="435" stroke="#d8f0a8" stroke-width="6" stroke-opacity="0.55" stroke-linecap="round"/>
<line x1="246" y1="247" x2="314" y2="398" stroke="#d8f0a8" stroke-width="6" stroke-opacity="0.55" stroke-linecap="round"/>
</g>
<ellipse cx="218.9" cy="42.1" rx="14" ry="14" fill="url(#cshad)"/>
</g>
<clipPath id="ca10"><rect x="34" y="70" width="51.20" height="48.50"/></clipPath>
<g clip-path="url(#ca10)"><g transform="translate(34,69) scale(0.10156)" filter="url(#fw)">
<polygon fill="#101408" points="215,195 255,185 265,225 240,245 220,235"/>
<polygon fill="url(#g25)" stroke="#84b44d" stroke-width="14" stroke-linejoin="round" points="152.1,67.0 185.1,45.0 229.1,34.0 273.1,23.0 300.6,39.5 306.1,89.0 306.1,144.0 295.1,177.0 256.6,182.5 218.1,166.0 185.1,133.0 157.6,100.0"/>
<polygon fill="url(#g26)" stroke="#77ad35" stroke-width="14" stroke-linejoin="round" points="25.1,258.5 36.1,209.0 63.6,181.5 107.6,165.0 162.6,165.0 206.6,181.5 228.6,214.5 234.1,258.5 223.1,302.5 206.6,346.5 190.1,379.5 151.6,396.0 96.6,390.5 52.6,363.0 30.6,313.5"/>
<polygon fill="url(#g27)" stroke="#7ead3e" stroke-width="14" stroke-linejoin="round" points="258.5,174.9 302.5,152.9 357.5,136.4 412.5,136.4 456.5,158.4 489.5,191.4 506.0,240.9 500.5,295.9 473.0,328.9 423.5,328.9 368.5,312.4 313.5,295.9 275.0,262.9 258.5,218.9"/>
<polygon fill="url(#g28)" stroke="#77aa40" stroke-width="14" stroke-linejoin="round" points="210.1,267.6 243.1,234.6 287.1,229.1 314.6,256.6 325.6,300.6 303.6,344.6 259.6,361.1 226.6,344.6 210.1,306.1"/>
<polygon fill="url(#g29)" stroke="#7ead47" stroke-width="14" stroke-linejoin="round" points="286.5,337.3 325.0,304.3 374.5,282.3 424.0,282.3 468.0,315.3 484.5,359.3 473.5,403.3 435.0,430.8 380.0,447.3 325.0,447.3 297.5,414.3 286.5,375.8"/>
<polygon fill="url(#g30)" stroke="#7ca741" stroke-width="14" stroke-linejoin="round" points="145.4,355.8 183.9,344.8 222.4,366.8 238.9,405.2 238.9,443.8 211.4,460.2 172.9,443.8 150.9,399.8"/>
<line x1="266" y1="278" x2="232" y2="55" stroke="#d8f0a8" stroke-width="6" stroke-opacity="0.55" stroke-linecap="round"/>
<line x1="266" y1="278" x2="101" y2="274" stroke="#d8f0a8" stroke-width="6" stroke-opacity="0.55" stroke-linecap="round"/>
<line x1="266" y1="278" x2="415" y2="219" stroke="#d8f0a8" stroke-width="6" stroke-opacity="0.55" stroke-linecap="round"/>
<line x1="266" y1="278" x2="264" y2="298" stroke="#d8f0a8" stroke-width="6" stroke-opacity="0.55" stroke-linecap="round"/>
<line x1="266" y1="278" x2="408" y2="389" stroke="#d8f0a8" stroke-width="6" stroke-opacity="0.55" stroke-linecap="round"/>
<line x1="266" y1="278" x2="178" y2="434" stroke="#d8f0a8" stroke-width="6" stroke-opacity="0.55" stroke-linecap="round"/>
</g>
<ellipse cx="59.6" cy="94.2" rx="14" ry="14" fill="url(#cshad)"/>
</g>
<clipPath id="ca11"><rect x="88.3" y="70" width="48.90" height="48.50"/></clipPath>
<g clip-path="url(#ca11)"><g transform="translate(88,69) scale(0.10156)" filter="url(#fw)">
<polygon fill="#101408" points="200,255 232,250 242,300 222,345 200,325"/>
<polygon fill="url(#g31)" stroke="#7db046" stroke-width="14" stroke-linejoin="round" points="4.0,187.5 20.5,132.5 53.5,94.0 97.5,77.5 147.0,83.0 191.0,105.0 213.0,143.5 218.5,198.5 213.0,253.5 202.0,308.5 185.5,341.5 152.5,358.0 97.5,352.5 53.5,319.5 20.5,264.5"/>
<polygon fill="url(#g32)" stroke="#77aa40" stroke-width="14" stroke-linejoin="round" points="168.6,96.5 201.6,63.5 240.1,36.0 267.6,30.5 289.6,69.0 284.1,107.5 251.1,118.5 207.1,118.5"/>
<polygon fill="url(#g33)" stroke="#79ad42" stroke-width="14" stroke-linejoin="round" points="262.1,71.6 295.1,38.6 339.1,22.1 372.1,33.1 394.1,77.1 416.1,121.1 427.1,154.1 399.6,176.1 350.1,181.6 306.1,176.1 273.1,143.1"/>
<polygon fill="url(#g34)" stroke="#7db04a" stroke-width="14" stroke-linejoin="round" points="312.4,160.3 356.4,143.8 411.4,154.8 455.4,176.8 477.4,215.3 471.9,253.8 433.4,270.4 389.4,270.4 345.4,253.8 312.4,215.3"/>
<polygon fill="url(#g35)" stroke="#76ad3e" stroke-width="14" stroke-linejoin="round" points="199.6,146.2 238.1,118.7 282.1,124.2 320.6,162.7 320.6,212.2 298.6,250.7 254.6,256.2 216.1,234.2 199.6,190.2"/>
<polygon fill="url(#g36)" stroke="#73a73c" stroke-width="14" stroke-linejoin="round" points="228.0,255.1 266.5,233.1 321.5,238.6 365.5,266.1 387.5,299.1 376.5,343.1 332.5,376.1 288.5,387.1 250.0,370.6 233.5,321.1"/>
<polygon fill="url(#g37)" stroke="#77a745" stroke-width="14" stroke-linejoin="round" points="376.1,261.9 420.1,256.4 453.1,267.4 464.1,300.4 442.1,333.4 398.1,338.9 376.1,311.4"/>
<polygon fill="url(#g38)" stroke="#79ad47" stroke-width="14" stroke-linejoin="round" points="132.9,393.3 154.9,360.3 198.9,343.8 248.4,354.8 286.9,382.3 303.4,420.8 286.9,459.3 242.9,475.8 187.9,470.3 149.4,448.3 132.9,420.8"/>
<line x1="288" y1="227" x2="84" y2="211" stroke="#d8f0a8" stroke-width="6" stroke-opacity="0.55" stroke-linecap="round"/>
<line x1="288" y1="227" x2="226" y2="43" stroke="#d8f0a8" stroke-width="6" stroke-opacity="0.55" stroke-linecap="round"/>
<line x1="288" y1="227" x2="364" y2="79" stroke="#d8f0a8" stroke-width="6" stroke-opacity="0.55" stroke-linecap="round"/>
<line x1="288" y1="227" x2="424" y2="208" stroke="#d8f0a8" stroke-width="6" stroke-opacity="0.55" stroke-linecap="round"/>
<line x1="288" y1="227" x2="252" y2="179" stroke="#d8f0a8" stroke-width="6" stroke-opacity="0.55" stroke-linecap="round"/>
<line x1="288" y1="227" x2="309" y2="329" stroke="#d8f0a8" stroke-width="6" stroke-opacity="0.55" stroke-linecap="round"/>
<line x1="288" y1="227" x2="451" y2="313" stroke="#d8f0a8" stroke-width="6" stroke-opacity="0.55" stroke-linecap="round"/>
<line x1="288" y1="227" x2="192" y2="458" stroke="#d8f0a8" stroke-width="6" stroke-opacity="0.55" stroke-linecap="round"/>
</g>
<ellipse cx="112.8" cy="94.2" rx="14" ry="14" fill="url(#cshad)"/>
</g>
<clipPath id="ca12"><rect x="140.5" y="70" width="50.70" height="48.50"/></clipPath>
<g clip-path="url(#ca12)"><g transform="translate(140,69) scale(0.10156)" filter="url(#fw)">
<polygon fill="#101408" points="130,170 160,165 165,205 135,215"/>
<polygon fill="#101408" points="300,285 400,285 410,310 370,330 330,320"/>
<polygon fill="url(#g39)" stroke="#7db046" stroke-width="14" stroke-linejoin="round" points="30.1,136.3 41.1,103.3 79.7,92.3 123.7,103.3 134.7,147.3 134.7,202.3 118.2,246.4 85.2,262.9 52.1,257.4 35.6,213.3"/>
<polygon fill="url(#g40)" stroke="#73aa32" stroke-width="14" stroke-linejoin="round" points="136.3,108.8 169.3,81.3 224.3,53.8 290.3,26.3 345.3,26.3 400.3,48.3 427.8,97.8 433.3,152.8 411.3,191.3 356.3,202.3 290.3,202.3 224.3,191.3 169.3,174.8 141.8,147.3"/>
<polygon fill="url(#g41)" stroke="#76ad3e" stroke-width="14" stroke-linejoin="round" points="365.4,133.5 409.4,133.5 447.9,161.0 469.9,210.5 464.4,254.5 431.4,271.0 387.4,254.5 348.9,221.5"/>
<polygon fill="url(#g42)" stroke="#78b441" stroke-width="14" stroke-linejoin="round" points="105.4,223.3 143.9,195.8 193.4,190.3 248.4,195.8 303.4,212.3 358.4,223.3 413.4,234.3 435.4,256.3 413.4,283.8 347.4,289.3 281.4,283.8 215.4,278.3 149.4,267.3 110.9,256.3"/>
<polygon fill="url(#g43)" stroke="#7fb452" stroke-width="14" stroke-linejoin="round" points="69.9,316.0 97.4,283.0 152.4,266.5 207.4,266.5 251.4,283.0 306.4,299.5 361.4,321.5 394.4,349.0 388.9,393.0 350.4,426.0 306.4,453.5 251.4,470.0 190.9,464.5 130.4,426.0 86.4,382.0"/>
<line x1="258" y1="221" x2="40" y2="165" stroke="#d8f0a8" stroke-width="6" stroke-opacity="0.55" stroke-linecap="round"/>
<line x1="258" y1="221" x2="295" y2="97" stroke="#d8f0a8" stroke-width="6" stroke-opacity="0.55" stroke-linecap="round"/>
<line x1="258" y1="221" x2="455" y2="201" stroke="#d8f0a8" stroke-width="6" stroke-opacity="0.55" stroke-linecap="round"/>
<line x1="258" y1="221" x2="268" y2="247" stroke="#d8f0a8" stroke-width="6" stroke-opacity="0.55" stroke-linecap="round"/>
<line x1="258" y1="221" x2="231" y2="395" stroke="#d8f0a8" stroke-width="6" stroke-opacity="0.55" stroke-linecap="round"/>
</g>
<ellipse cx="165.8" cy="94.2" rx="14" ry="14" fill="url(#cshad)"/>
</g>
<clipPath id="ca13"><rect x="193.9" y="70" width="50.10" height="48.50"/></clipPath>
<g clip-path="url(#ca13)"><g transform="translate(193,69) scale(0.10156)" filter="url(#fw)">
<polygon fill="#101408" points="200,280 242,272 258,320 248,362 212,352"/>
<polygon fill="#101408" points="140,200 170,195 175,250 150,262"/>
<polygon fill="url(#g44)" stroke="#79ad42" stroke-width="14" stroke-linejoin="round" points="50.6,149.8 61.6,105.8 89.2,78.3 133.2,78.3 155.2,105.8 155.2,160.8 133.2,204.8 94.7,226.8 61.6,221.3 50.6,188.3"/>
<polygon fill="url(#g45)" stroke="#79ad47" stroke-width="14" stroke-linejoin="round" points="159.8,98.4 192.8,87.4 236.8,81.9 269.8,54.4 291.8,76.4 335.8,92.9 385.3,103.9 396.3,131.4 368.8,158.9 302.8,175.4 236.8,169.9 187.3,147.9 165.3,125.9"/>
<polygon fill="url(#g46)" stroke="#75ad42" stroke-width="14" stroke-linejoin="round" points="290.0,186.5 334.0,153.5 389.0,137.0 444.0,142.5 482.5,175.5 493.5,219.5 477.0,269.0 444.0,302.0 394.5,318.5 345.0,307.5 306.5,269.0"/>
<polygon fill="url(#g47)" stroke="#77aa40" stroke-width="14" stroke-linejoin="round" points="154.4,197.2 176.4,169.7 214.9,164.2 253.4,186.2 275.4,230.2 266.6,274.2 236.9,290.7 198.4,279.7 165.4,257.7"/>
<polygon fill="url(#g48)" stroke="#79ad47" stroke-width="14" stroke-linejoin="round" points="280.5,224.8 330.0,191.8 374.0,224.8 390.5,290.8 374.0,345.8 330.0,367.8 286.0,334.8 275.0,279.8"/>
<polygon fill="url(#g49)" stroke="#7fb452" stroke-width="14" stroke-linejoin="round" points="11.2,286.8 27.7,242.8 66.2,220.8 115.7,220.8 165.2,248.3 198.2,286.8 209.2,330.8 198.2,385.8 165.2,429.8 121.2,440.8 77.2,407.8 38.7,363.8 16.7,325.3"/>
<polygon fill="url(#g50)" stroke="#7cb04f" stroke-width="14" stroke-linejoin="round" points="153.8,379.1 186.8,340.6 241.8,313.1 291.3,296.6 346.3,313.1 384.8,357.1 395.8,401.1 373.8,445.1 324.3,467.1 258.3,472.6 203.3,456.1 164.8,423.1"/>
<line x1="243" y1="245" x2="62" y2="129" stroke="#d8f0a8" stroke-width="6" stroke-opacity="0.55" stroke-linecap="round"/>
<line x1="243" y1="245" x2="279" y2="83" stroke="#d8f0a8" stroke-width="6" stroke-opacity="0.55" stroke-linecap="round"/>
<line x1="243" y1="245" x2="439" y2="221" stroke="#d8f0a8" stroke-width="6" stroke-opacity="0.55" stroke-linecap="round"/>
<line x1="243" y1="245" x2="209" y2="223" stroke="#d8f0a8" stroke-width="6" stroke-opacity="0.55" stroke-linecap="round"/>
<line x1="243" y1="245" x2="352" y2="292" stroke="#d8f0a8" stroke-width="6" stroke-opacity="0.55" stroke-linecap="round"/>
<line x1="243" y1="245" x2="75" y2="342" stroke="#d8f0a8" stroke-width="6" stroke-opacity="0.55" stroke-linecap="round"/>
<line x1="243" y1="245" x2="286" y2="425" stroke="#d8f0a8" stroke-width="6" stroke-opacity="0.55" stroke-linecap="round"/>
</g>
<ellipse cx="218.9" cy="94.2" rx="14" ry="14" fill="url(#cshad)"/>
</g>
<clipPath id="ca20"><rect x="34" y="121.5" width="51.20" height="49.10"/></clipPath>
<g clip-path="url(#ca20)"><g transform="translate(34,120) scale(0.10156)" filter="url(#fw)">
<polygon fill="#201c16" points="150,90 240,50 300,80 280,150 250,250 200,270 150,250 130,200"/>
<polygon fill="url(#g51)" stroke="#77ad35" stroke-width="14" stroke-linejoin="round" points="31.1,203.8 53.1,170.8 91.6,148.8 108.1,104.8 141.1,71.7 179.6,49.7 207.1,71.7 223.6,115.8 218.1,170.8 196.1,203.8 152.1,236.8 108.1,253.2 64.1,247.8 36.6,225.8"/>
<polygon fill="url(#g52)" stroke="#7ca741" stroke-width="14" stroke-linejoin="round" points="291.4,58.7 324.4,31.2 368.4,25.7 401.4,42.2 445.4,47.7 472.9,80.7 456.4,108.2 412.4,119.2 368.4,113.7 324.4,102.7"/>
<polygon fill="url(#g53)" stroke="#77ad35" stroke-width="14" stroke-linejoin="round" points="239.2,158.5 261.2,114.5 294.2,92.5 349.2,81.5 404.2,92.5 437.2,136.5 453.7,191.5 459.2,246.5 437.2,268.5 382.2,257.5 316.2,246.5 266.7,219.0"/>
<polygon fill="url(#g54)" stroke="#75a330" stroke-width="14" stroke-linejoin="round" points="374.9,233.6 418.9,228.1 462.9,261.1 490.4,310.6 490.4,354.6 451.9,376.6 396.9,360.1 363.9,310.6"/>
<polygon fill="#101408" points="375,300 430,320 445,340 400,335"/>
<polygon fill="url(#g55)" stroke="#7cb445" stroke-width="14" stroke-linejoin="round" points="101.8,293.5 134.8,266.0 195.3,255.0 261.3,260.5 316.3,277.0 360.3,315.5 398.8,370.5 393.3,420.0 360.3,453.0 305.3,475.0 250.3,480.5 206.3,464.0 173.3,425.5 140.3,381.5 112.8,337.5"/>
<line x1="180" y1="195" x2="280" y2="240" stroke="#b0d888" stroke-width="9" stroke-linecap="round"/>
<line x1="311" y1="216" x2="84" y2="149" stroke="#d8f0a8" stroke-width="6" stroke-opacity="0.55" stroke-linecap="round"/>
<line x1="311" y1="216" x2="405" y2="37" stroke="#d8f0a8" stroke-width="6" stroke-opacity="0.55" stroke-linecap="round"/>
<line x1="311" y1="216" x2="370" y2="165" stroke="#d8f0a8" stroke-width="6" stroke-opacity="0.55" stroke-linecap="round"/>
<line x1="311" y1="216" x2="461" y2="326" stroke="#d8f0a8" stroke-width="6" stroke-opacity="0.55" stroke-linecap="round"/>
<line x1="311" y1="216" x2="232" y2="402" stroke="#d8f0a8" stroke-width="6" stroke-opacity="0.55" stroke-linecap="round"/>
</g>
<ellipse cx="59.6" cy="146.1" rx="14" ry="14" fill="url(#cshad)"/>
</g>
<clipPath id="ca21"><rect x="88.3" y="121.5" width="48.90" height="49.10"/></clipPath>
<g clip-path="url(#ca21)"><g transform="translate(88,120) scale(0.10156)" filter="url(#fw)">
<polygon fill="#101408" points="120,200 160,200 170,230 140,245 125,230"/>
<polygon fill="#101408" points="115,265 145,260 150,300 130,340 115,320"/>
<polygon fill="url(#g56)" stroke="#7db046" stroke-width="14" stroke-linejoin="round" points="128.0,140.5 144.5,91.0 166.5,41.5 205.0,25.0 254.5,19.5 276.5,52.5 282.0,96.5 326.0,102.0 370.0,107.5 392.0,140.5 386.5,195.5 348.0,234.0 293.0,250.5 238.0,245.0 194.0,223.0 150.0,195.5"/>
<polygon fill="url(#g57)" stroke="#81b046" stroke-width="14" stroke-linejoin="round" points="8.4,297.5 35.9,226.0 68.9,176.5 107.4,165.5 129.4,204.0 134.9,270.0 123.9,325.0 101.9,358.0 68.9,352.5 30.4,325.0"/>
<polygon fill="url(#g58)" stroke="#78aa36" stroke-width="14" stroke-linejoin="round" points="109.1,279.8 136.6,246.8 186.1,230.3 252.1,230.3 307.1,241.3 351.1,274.3 367.6,329.3 356.6,384.3 318.1,439.3 263.1,461.3 197.1,455.8 142.1,428.3 114.6,384.3 103.6,329.3"/>
<polygon fill="url(#g59)" stroke="#74a339" stroke-width="14" stroke-linejoin="round" points="312.9,264.4 356.9,236.8 400.9,236.8 444.9,264.4 466.9,308.4 461.4,363.4 422.9,407.4 378.9,423.9 340.4,407.4 323.9,352.4"/>
<line x1="240" y1="267" x2="265" y2="102" stroke="#d8f0a8" stroke-width="6" stroke-opacity="0.55" stroke-linecap="round"/>
<line x1="240" y1="267" x2="41" y2="271" stroke="#d8f0a8" stroke-width="6" stroke-opacity="0.55" stroke-linecap="round"/>
<line x1="240" y1="267" x2="226" y2="354" stroke="#d8f0a8" stroke-width="6" stroke-opacity="0.55" stroke-linecap="round"/>
<line x1="240" y1="267" x2="429" y2="341" stroke="#d8f0a8" stroke-width="6" stroke-opacity="0.55" stroke-linecap="round"/>
</g>
<ellipse cx="112.8" cy="146.1" rx="14" ry="14" fill="url(#cshad)"/>
</g>
<clipPath id="ca22"><rect x="140.5" y="121.5" width="50.70" height="49.10"/></clipPath>
<g clip-path="url(#ca22)"><g transform="translate(140,120) scale(0.10156)" filter="url(#fw)">
<polygon fill="url(#g60)" stroke="#75ad42" stroke-width="14" stroke-linejoin="round" points="30.9,201.3 52.9,135.3 91.4,91.3 140.9,74.8 195.9,74.8 223.4,102.3 228.9,157.3 217.9,212.3 195.9,256.3 151.9,294.8 96.9,305.8 47.4,283.8 25.4,245.3"/>
<polygon fill="url(#g61)" stroke="#7db04a" stroke-width="14" stroke-linejoin="round" points="171.4,64.0 209.9,31.0 259.4,20.0 292.4,42.0 303.4,86.0 336.4,130.0 347.4,174.0 330.9,218.0 292.4,234.5 248.4,223.5 209.9,190.5 187.9,141.0"/>
<polygon fill="url(#g62)" stroke="#78a741" stroke-width="14" stroke-linejoin="round" points="348.9,115.5 387.4,82.5 431.4,49.5 453.4,82.5 464.4,148.5 469.9,214.5 458.9,269.5 420.4,269.5 376.4,236.5 348.9,181.5"/>
<polygon fill="url(#g63)" stroke="#7db046" stroke-width="14" stroke-linejoin="round" points="244.7,287.9 283.2,243.9 338.2,216.4 398.7,205.4 448.2,227.4 470.2,287.9 464.7,353.9 437.2,392.4 382.2,403.4 316.2,403.4 272.2,375.9 244.7,331.9"/>
<polygon fill="url(#g64)" stroke="#79ad42" stroke-width="14" stroke-linejoin="round" points="116.1,325.4 160.1,303.4 215.1,297.9 253.6,319.9 286.6,352.9 308.6,402.4 292.1,440.9 242.6,457.4 193.1,451.9 154.6,413.4 127.1,369.4"/>
<polygon fill="url(#g65)" stroke="#83b755" stroke-width="14" stroke-linejoin="round" points="185.6,201.6 229.6,190.6 273.6,218.1 284.6,251.1 257.1,278.6 218.6,278.6 191.1,251.1"/>
<polygon fill="#0a0a08" points="200,255 240,250 250,290 225,310 200,300"/>
<line x1="270" y1="235" x2="96" y2="176" stroke="#d8f0a8" stroke-width="6" stroke-opacity="0.55" stroke-linecap="round"/>
<line x1="270" y1="235" x2="265" y2="103" stroke="#d8f0a8" stroke-width="6" stroke-opacity="0.55" stroke-linecap="round"/>
<line x1="270" y1="235" x2="453" y2="148" stroke="#d8f0a8" stroke-width="6" stroke-opacity="0.55" stroke-linecap="round"/>
<line x1="270" y1="235" x2="380" y2="330" stroke="#d8f0a8" stroke-width="6" stroke-opacity="0.55" stroke-linecap="round"/>
<line x1="270" y1="235" x2="200" y2="411" stroke="#d8f0a8" stroke-width="6" stroke-opacity="0.55" stroke-linecap="round"/>
<line x1="270" y1="235" x2="225" y2="240" stroke="#d8f0a8" stroke-width="6" stroke-opacity="0.55" stroke-linecap="round"/>
</g>
<ellipse cx="165.8" cy="146.1" rx="14" ry="14" fill="url(#cshad)"/>
</g>
<clipPath id="ca23"><rect x="193.9" y="121.5" width="50.10" height="49.10"/></clipPath>
<g clip-path="url(#ca23)"><g transform="translate(193,120) scale(0.10156)" filter="url(#fw)">
<polygon fill="#101408" points="135,175 170,165 180,210 150,240 135,220"/>
<polygon fill="url(#g66)" stroke="#75ad42" stroke-width="14" stroke-linejoin="round" points="159.2,161.8 192.2,112.3 236.2,79.3 280.2,51.8 318.7,24.3 351.7,40.8 373.7,95.8 390.2,150.8 368.2,205.8 324.2,233.3 258.2,244.3 192.2,233.3 164.7,205.8"/>
<polygon fill="url(#g67)" stroke="#79ad47" stroke-width="14" stroke-linejoin="round" points="14.2,205.8 36.2,178.3 80.2,161.8 118.7,167.3 135.2,216.8 135.2,282.9 118.7,326.9 80.2,343.4 41.7,337.9 19.7,293.9"/>
<polygon fill="url(#g68)" stroke="#7db04a" stroke-width="14" stroke-linejoin="round" points="339.1,101.3 377.6,90.3 421.6,106.8 443.6,156.3 438.1,211.3 460.1,266.3 443.6,299.3 399.6,293.8 366.6,255.3 350.1,189.3"/>
<polygon fill="url(#g69)" stroke="#72aa40" stroke-width="14" stroke-linejoin="round" points="118.5,257.4 162.5,224.4 217.5,213.4 283.5,224.4 338.5,246.4 371.5,290.4 355.0,334.4 305.5,356.4 239.5,356.4 173.5,339.9 135.0,306.9"/>
<polygon fill="#101408" points="185,290 230,285 235,315 195,320"/>
<polygon fill="url(#g70)" stroke="#75ad42" stroke-width="14" stroke-linejoin="round" points="124.3,379.2 157.3,340.8 212.3,324.2 278.3,329.8 344.3,324.2 410.3,329.8 448.8,351.8 454.3,390.2 421.3,417.8 366.3,423.2 322.3,434.2 267.3,461.8 201.3,472.8 146.3,445.2"/>
<line x1="260" y1="253" x2="282" y2="114" stroke="#d8f0a8" stroke-width="6" stroke-opacity="0.55" stroke-linecap="round"/>
<line x1="260" y1="253" x2="32" y2="251" stroke="#d8f0a8" stroke-width="6" stroke-opacity="0.55" stroke-linecap="round"/>
<line x1="260" y1="253" x2="440" y2="183" stroke="#d8f0a8" stroke-width="6" stroke-opacity="0.55" stroke-linecap="round"/>
<line x1="260" y1="253" x2="242" y2="295" stroke="#d8f0a8" stroke-width="6" stroke-opacity="0.55" stroke-linecap="round"/>
<line x1="260" y1="253" x2="306" y2="421" stroke="#d8f0a8" stroke-width="6" stroke-opacity="0.55" stroke-linecap="round"/>
</g>
<ellipse cx="218.9" cy="146.1" rx="14" ry="14" fill="url(#cshad)"/>
</g>
<clipPath id="cb00"><rect x="291.8" y="14.8" width="51.00" height="50.90"/></clipPath>
<rect x="291.8" y="14.8" width="51.00" height="50.90" fill="#0c0a2e"/>
<rect x="292.3" y="15.3" width="50.00" height="49.90" fill="none" stroke="#04031a" stroke-width="1"/>
<g clip-path="url(#cb00)"><g transform="translate(292,15) scale(0.10156)">
<ellipse cx="256" cy="251" rx="190" ry="180" fill="#261c7a" filter="url(#fg)"/>
<g filter="url(#fb)">
<polygon fill="url(#g71)" stroke="#6f3260" stroke-width="16" stroke-linejoin="round" points="37.9,142.3 65.9,108.7 110.8,97.5 155.6,114.3 166.8,164.8 166.8,231.9 155.6,287.9 133.2,321.6 99.5,332.8 65.9,310.4 49.1,254.3 37.9,198.3"/>
<polygon fill="url(#g72)" stroke="#93406c" stroke-width="16" stroke-linejoin="round" points="144.8,116.5 178.3,88.5 217.6,71.7 262.4,69.5 307.1,88.5 329.6,127.7 335.1,172.5 307.1,206.1 262.4,222.9 217.6,234.1 172.8,217.3 150.3,172.5"/>
<polygon fill="url(#g73)" stroke="#6f567e" stroke-width="16" stroke-linejoin="round" points="291.3,90.5 324.9,68.1 369.7,62.5 414.5,73.7 442.5,107.3 453.7,152.1 436.9,185.7 392.1,202.5 347.3,202.5 313.7,185.7 308.1,129.7"/>
<polygon fill="url(#g74)" stroke="#803661" stroke-width="16" stroke-linejoin="round" points="159.5,225.1 193.1,208.3 232.3,213.9 260.3,236.3 265.9,281.1 243.5,325.9 209.9,342.7 176.3,325.9 159.5,281.1"/>
<polygon fill="url(#g75)" stroke="#8f3e6a" stroke-width="16" stroke-linejoin="round" points="198.8,244.9 238.0,233.7 282.8,244.9 305.2,267.3 316.4,312.1 294.0,345.7 254.8,351.3 221.2,334.5 198.8,295.3"/>
<polygon fill="url(#g76)" stroke="#8f426d" stroke-width="16" stroke-linejoin="round" points="289.4,262.8 323.0,229.2 379.0,212.4 435.0,212.4 474.2,240.4 485.4,285.2 479.8,341.2 457.4,397.2 423.8,436.4 379.0,453.2 334.2,447.6 300.6,414.0 289.4,352.4"/>
<polygon fill="url(#g77)" stroke="#783664" stroke-width="16" stroke-linejoin="round" points="142.0,388.1 170.0,360.1 214.8,348.9 259.6,360.1 282.0,388.1 287.6,421.7 265.2,449.7 220.4,460.9 175.6,455.3 147.6,427.3"/>
<line x1="150" y1="235" x2="320" y2="228" stroke="#8a7a90" stroke-width="6" stroke-linecap="round"/>
<line x1="158" y1="130" x2="160" y2="300" stroke="#140c28" stroke-width="14" stroke-linecap="round"/>
<line x1="300" y1="262" x2="300" y2="360" stroke="#140c28" stroke-width="12" stroke-linecap="round"/>
<line x1="170" y1="352" x2="280" y2="352" stroke="#140c28" stroke-width="12" stroke-linecap="round"/>
</g>
</g></g>
<clipPath id="cb01"><rect x="346.1" y="14.8" width="50.50" height="50.90"/></clipPath>
<rect x="346.1" y="14.8" width="50.50" height="50.90" fill="#0c0a2e"/>
<rect x="346.6" y="15.3" width="49.50" height="49.90" fill="none" stroke="#04031a" stroke-width="1"/>
<g clip-path="url(#cb01)"><g transform="translate(346,15) scale(0.10156)">
<ellipse cx="256" cy="251" rx="190" ry="180" fill="#261c7a" filter="url(#fg)"/>
<g filter="url(#fb)">
<polygon fill="url(#g78)" stroke="#843e71" stroke-width="16" stroke-linejoin="round" points="31.5,230.8 53.9,152.4 98.7,96.4 154.7,51.6 221.9,23.6 277.9,23.6 333.9,51.6 367.5,96.4 361.9,141.2 311.5,152.4 255.5,152.4 199.5,141.2 165.9,174.8 143.5,219.6 87.5,242.0"/>
<polygon fill="url(#g79)" stroke="#934675" stroke-width="16" stroke-linejoin="round" points="300.1,149.6 344.9,127.2 395.3,110.4 423.3,132.8 445.7,194.4 468.1,261.6 479.3,328.9 456.9,362.5 412.1,368.1 356.1,351.2 322.5,317.6 305.7,250.4"/>
<polygon fill="url(#g80)" stroke="#803669" stroke-width="16" stroke-linejoin="round" points="28.9,265.1 62.5,231.6 107.3,220.3 163.3,220.3 196.9,253.9 219.4,298.8 230.6,343.6 208.2,388.4 163.3,410.8 107.3,405.1 62.5,365.9 34.5,321.1"/>
<polygon fill="url(#g81)" stroke="#883e6d" stroke-width="16" stroke-linejoin="round" points="172.9,162.7 217.7,151.5 273.7,157.1 307.3,196.3 312.9,252.3 296.1,297.1 251.3,308.3 206.5,297.1 184.1,263.5 172.9,218.7"/>
<polygon fill="url(#g82)" stroke="#422c6d" stroke-width="16" stroke-linejoin="round" points="190.8,386.6 246.8,369.8 314.0,375.4 370.0,397.8 358.8,442.6 302.8,465.0 235.6,465.0 196.4,442.6"/>
<polygon fill="#18283a" points="230,300 290,300 340,320 400,330 410,380 360,400 290,400 240,370"/>
<polygon fill="#3a8890" points="300,340 320,335 325,355 305,360"/>
<polygon fill="#3a8890" points="370,350 390,345 392,365 372,368"/>
<polygon fill="#140c24" points="150,180 195,150 220,160 185,210 160,220"/>
<polygon fill="#140c24" points="300,150 325,140 335,190 320,240 305,230"/>
</g>
</g></g>
<clipPath id="cb02"><rect x="399.3" y="14.8" width="50.90" height="50.90"/></clipPath>
<rect x="399.3" y="14.8" width="50.90" height="50.90" fill="#0c0a2e"/>
<rect x="399.8" y="15.3" width="49.90" height="49.90" fill="none" stroke="#04031a" stroke-width="1"/>
<g clip-path="url(#cb02)"><g transform="translate(399,15) scale(0.10156)">
<ellipse cx="256" cy="251" rx="190" ry="180" fill="#261c7a" filter="url(#fg)"/>
<g filter="url(#fb)">
<polygon fill="url(#g83)" stroke="#7b3a6d" stroke-width="16" stroke-linejoin="round" points="147.6,56.0 192.4,39.2 248.4,33.6 304.4,50.4 354.8,78.4 382.8,112.0 349.2,134.4 304.4,145.6 248.4,145.6 203.6,128.8 164.4,100.8"/>
<polygon fill="url(#g84)" stroke="#883e6d" stroke-width="16" stroke-linejoin="round" points="70.6,208.9 104.2,175.3 149.0,152.9 199.4,152.9 238.6,175.3 249.8,214.5 233.0,253.7 193.8,276.1 137.8,287.3 93.0,276.1 70.6,242.5"/>
<polygon fill="url(#g85)" stroke="#934671" stroke-width="16" stroke-linejoin="round" points="248.4,217.5 276.4,172.7 315.6,150.3 371.6,133.5 427.6,139.1 461.2,172.7 472.4,228.7 455.6,273.5 416.4,295.9 377.2,318.3 343.6,340.7 304.4,340.7 270.8,318.3 254.0,273.5"/>
<polygon fill="url(#g86)" stroke="#843a6d" stroke-width="16" stroke-linejoin="round" points="77.7,281.3 111.3,258.9 167.3,264.5 217.7,292.5 256.9,326.1 290.5,359.7 312.9,404.5 296.1,449.3 245.7,466.1 189.7,460.5 144.9,426.9 105.7,382.1 83.3,337.3"/>
<polygon fill="url(#g87)" stroke="#6f366c" stroke-width="16" stroke-linejoin="round" points="263.3,324.3 308.1,324.3 352.9,335.5 386.5,369.1 380.9,413.9 341.7,436.3 296.9,425.1 274.5,391.5"/>
<polygon fill="url(#g88)" stroke="#3a2665" stroke-width="16" stroke-linejoin="round" points="139.8,416.2 218.2,427.4 296.6,438.6 330.2,472.2 251.8,483.4 173.4,472.2"/>
<polygon fill="#100818" points="200,170 260,140 290,180 270,240 250,320 230,330 220,280 240,230"/>
<line x1="150" y1="115" x2="250" y2="240" stroke="#120a24" stroke-width="22" stroke-linecap="round"/>
<line x1="330" y1="125" x2="250" y2="240" stroke="#120a24" stroke-width="22" stroke-linecap="round"/>
<line x1="250" y1="240" x2="255" y2="330" stroke="#120a24" stroke-width="22" stroke-linecap="round"/>
<line x1="250" y1="240" x2="175" y2="275" stroke="#120a24" stroke-width="18" stroke-linecap="round"/>
</g>
</g></g>
<clipPath id="cb03"><rect x="452.9" y="14.8" width="51.10" height="50.90"/></clipPath>
<rect x="452.9" y="14.8" width="51.10" height="50.90" fill="#0c0a2e"/>
<rect x="453.4" y="15.3" width="50.10" height="49.90" fill="none" stroke="#04031a" stroke-width="1"/>
<g clip-path="url(#cb03)"><g transform="translate(452,15) scale(0.10156)">
<ellipse cx="256" cy="251" rx="190" ry="180" fill="#261c7a" filter="url(#fg)"/>
<g filter="url(#fb)">
<polygon fill="url(#g89)" stroke="#843e71" stroke-width="16" stroke-linejoin="round" points="57.8,198.1 69.0,119.7 102.6,74.9 158.6,52.5 225.8,46.9 281.8,58.1 304.2,86.1 270.6,142.1 242.6,198.1 225.8,265.3 220.2,332.5 203.4,388.5 158.6,422.1 102.6,416.5 69.0,366.1 57.8,287.7"/>
<polygon fill="url(#g90)" stroke="#93487a" stroke-width="16" stroke-linejoin="round" points="311.4,223.0 345.0,167.0 378.6,133.4 412.2,127.8 440.2,155.8 451.4,211.8 479.4,267.8 507.4,323.8 501.8,368.6 468.2,402.2 423.4,435.8 367.4,435.8 322.6,413.4 289.0,379.8 277.8,312.6 289.0,256.6"/>
<polygon fill="url(#g91)" stroke="#933f71" stroke-width="16" stroke-linejoin="round" points="234.8,158.4 268.4,124.8 301.9,119.2 329.9,141.6 329.9,192.0 301.9,225.6 262.8,225.6 240.3,197.6"/>
<polygon fill="url(#g92)" stroke="#3a2a71" stroke-width="16" stroke-linejoin="round" points="99.7,397.1 155.7,380.3 222.9,380.3 278.9,397.1 301.3,430.7 267.7,464.3 200.5,475.5 133.3,464.3 99.7,430.7"/>
<polygon fill="url(#g93)" stroke="#783e70" stroke-width="16" stroke-linejoin="round" points="193.8,244.6 249.8,233.4 305.8,278.2 305.8,334.2 249.8,356.6 205.0,323.0"/>
<polygon fill="#120a22" points="220,130 250,130 240,200 225,260 210,240"/>
<polygon fill="#120a22" points="290,230 330,200 340,240 300,300"/>
<line x1="235" y1="130" x2="245" y2="250" stroke="#120a22" stroke-width="22" stroke-linecap="round"/>
<line x1="245" y1="250" x2="300" y2="330" stroke="#120a22" stroke-width="18" stroke-linecap="round"/>
<line x1="245" y1="250" x2="215" y2="340" stroke="#120a22" stroke-width="18" stroke-linecap="round"/>
</g>
</g></g>
<clipPath id="cb10"><rect x="291.8" y="68.5" width="51.00" height="50.00"/></clipPath>
<rect x="291.8" y="68.5" width="51.00" height="50.00" fill="#0b092a"/>
<rect x="292.3" y="69.0" width="50.00" height="49.00" fill="none" stroke="#04031a" stroke-width="1"/>
<g clip-path="url(#cb10)"><g transform="translate(292,68) scale(0.10156)">
<ellipse cx="256" cy="251" rx="190" ry="180" fill="#241a72" filter="url(#fg)"/>
<g filter="url(#fb)">
<polygon fill="url(#g94)" stroke="#607a7f" stroke-width="16" stroke-linejoin="round" points="262.5,83.4 296.1,44.2 318.5,21.8 352.1,38.6 391.3,61.0 402.5,100.2 374.5,145.0 340.9,178.6 307.3,173.0 279.3,139.4"/>
<polygon fill="url(#g95)" stroke="#843e5e" stroke-width="16" stroke-linejoin="round" points="47.6,148.1 70.0,92.1 114.8,64.1 170.8,58.5 226.8,69.7 266.0,103.3 282.8,159.3 271.6,215.3 238.0,260.1 182.0,276.9 126.0,271.3 75.6,243.3 53.2,198.5"/>
<polygon fill="url(#g96)" stroke="#883f62" stroke-width="16" stroke-linejoin="round" points="281.3,204.7 314.9,176.7 365.3,171.1 410.1,187.9 438.1,227.1 443.7,283.1 426.9,327.9 387.7,344.7 337.3,327.9 298.1,294.3 281.3,249.5"/>
<polygon fill="url(#g97)" stroke="#843a5e" stroke-width="16" stroke-linejoin="round" points="172.8,255.3 217.6,238.5 268.0,244.1 301.6,277.7 307.2,322.5 284.8,356.1 240.0,361.7 195.2,339.3 172.8,300.1"/>
<polygon fill="url(#g98)" stroke="#803960" stroke-width="16" stroke-linejoin="round" points="215.5,366.8 254.7,333.2 310.7,322.0 361.1,338.8 389.1,378.0 383.5,422.8 349.9,456.4 299.5,467.6 254.7,456.4 221.1,422.8"/>
<polygon fill="url(#g99)" stroke="#544a55" stroke-width="16" stroke-linejoin="round" points="86.3,316.5 119.9,299.7 153.5,316.5 159.1,361.3 136.7,394.9 103.1,394.9 86.3,361.3"/>
<polygon fill="url(#g100)" stroke="#484671" stroke-width="16" stroke-linejoin="round" points="396.7,283.8 430.3,272.6 458.3,295.0 463.9,351.0 441.5,407.0 407.9,418.2 396.7,362.2"/>
<polygon fill="url(#g101)" stroke="#3d3f5a" stroke-width="16" stroke-linejoin="round" points="317.0,428.5 350.6,417.3 373.0,450.9 339.4,473.3"/>
<polygon fill="#100818" points="240,180 275,160 290,200 265,230 245,220"/>
<line x1="255" y1="150" x2="285" y2="240" stroke="#100818" stroke-width="14" stroke-linecap="round"/>
<line x1="175" y1="262" x2="290" y2="270" stroke="#100818" stroke-width="10" stroke-linecap="round"/>
<line x1="290" y1="332" x2="380" y2="342" stroke="#100818" stroke-width="10" stroke-linecap="round"/>
</g>
</g></g>
<clipPath id="cb11"><rect x="346.1" y="68.5" width="50.50" height="50.00"/></clipPath>
<rect x="346.1" y="68.5" width="50.50" height="50.00" fill="#0b092a"/>
<rect x="346.6" y="69.0" width="49.50" height="49.00" fill="none" stroke="#04031a" stroke-width="1"/>
<g clip-path="url(#cb11)"><g transform="translate(346,68) scale(0.10156)">
<ellipse cx="256" cy="251" rx="190" ry="180" fill="#241a72" filter="url(#fg)"/>
<g filter="url(#fb)">
<polygon fill="url(#g102)" stroke="#803e62" stroke-width="16" stroke-linejoin="round" points="36.3,194.6 58.7,127.4 103.5,82.6 159.5,54.6 215.5,49.0 260.3,71.4 282.7,116.2 277.1,161.0 249.1,194.6 204.3,222.6 148.3,239.4 92.3,239.4 47.5,222.6"/>
<polygon fill="url(#g103)" stroke="#88466a" stroke-width="16" stroke-linejoin="round" points="290.7,136.6 324.3,103.0 380.3,97.4 436.3,119.8 481.1,170.2 492.3,226.2 481.1,293.4 447.5,349.4 413.9,394.2 369.1,416.6 324.3,416.6 290.7,383.0 273.9,315.8 273.9,237.4"/>
<polygon fill="url(#g104)" stroke="#883e62" stroke-width="16" stroke-linejoin="round" points="167.0,225.1 211.8,197.1 262.2,202.7 301.4,236.3 312.6,286.7 295.8,325.9 251.0,342.7 200.6,331.5 172.6,292.3"/>
<polygon fill="url(#g105)" stroke="#6f365f" stroke-width="16" stroke-linejoin="round" points="32.7,263.9 66.3,247.1 111.1,252.7 144.7,286.3 167.1,342.3 155.9,381.5 116.7,398.3 71.9,381.5 43.9,331.1"/>
<polygon fill="url(#g106)" stroke="#78365e" stroke-width="16" stroke-linejoin="round" points="161.9,325.2 206.7,308.4 262.7,314.0 307.5,347.6 318.7,392.4 290.7,426.0 240.3,431.6 189.9,409.2 161.9,375.6"/>
<polygon fill="url(#g107)" stroke="#58d878" stroke-width="16" stroke-linejoin="round" points="417.2,262.0 450.8,245.2 473.2,278.8 467.6,323.6 434.0,329.2 415.0,301.2"/>
<polygon fill="url(#g108)" stroke="#50a060" stroke-width="16" stroke-linejoin="round" points="87.6,348.2 121.2,342.6 132.4,381.8 98.8,387.4"/>
<polygon fill="#100818" points="170,200 200,195 220,240 180,270 160,240"/>
<polygon fill="#100818" points="290,120 320,100 345,160 320,190"/>
<line x1="160" y1="225" x2="300" y2="260" stroke="#100818" stroke-width="12" stroke-linecap="round"/>
<line x1="295" y1="130" x2="300" y2="240" stroke="#100818" stroke-width="12" stroke-linecap="round"/>
<line x1="180" y1="322" x2="290" y2="332" stroke="#100818" stroke-width="10" stroke-linecap="round"/>
</g>
</g></g>
<clipPath id="cb12"><rect x="399.3" y="68.5" width="50.90" height="50.00"/></clipPath>
<rect x="399.3" y="68.5" width="50.90" height="50.00" fill="#0b092a"/>
<rect x="399.8" y="69.0" width="49.90" height="49.00" fill="none" stroke="#04031a" stroke-width="1"/>
<g clip-path="url(#cb12)"><g transform="translate(399,68) scale(0.10156)">
<ellipse cx="256" cy="251" rx="190" ry="180" fill="#241a72" filter="url(#fg)"/>
<g filter="url(#fb)">
<polygon fill="url(#g109)" stroke="#803e62" stroke-width="16" stroke-linejoin="round" points="78.2,174.4 89.4,118.4 117.4,73.6 156.6,45.6 190.2,51.2 207.0,84.8 195.8,129.6 179.0,168.8 151.0,202.4 106.2,213.6 83.8,202.4"/>
<polygon fill="url(#g110)" stroke="#a0c070" stroke-width="16" stroke-linejoin="round" points="116.8,79.3 150.4,56.9 178.4,68.1 161.6,101.7 128.0,124.1"/>
<polygon fill="url(#g111)" stroke="#8c466a" stroke-width="16" stroke-linejoin="round" points="200.9,118.8 217.7,74.0 256.9,40.4 307.3,23.6 363.3,29.2 419.3,46.0 458.5,85.2 469.7,141.2 452.9,197.2 408.1,230.8 352.1,242.0 296.1,225.2 245.7,202.8 212.1,163.6"/>
<polygon fill="url(#g112)" stroke="#843e62" stroke-width="16" stroke-linejoin="round" points="132.0,211.5 171.2,183.5 216.0,177.9 255.2,200.3 283.2,239.5 277.6,284.3 244.0,306.7 199.2,306.7 154.4,284.3 132.0,250.7"/>
<polygon fill="url(#g113)" stroke="#843e62" stroke-width="16" stroke-linejoin="round" points="280.9,247.4 325.7,225.0 381.7,219.4 432.1,236.2 448.9,275.4 426.5,309.0 381.7,325.8 325.7,314.6 292.1,292.2"/>
<polygon fill="url(#g114)" stroke="#883e66" stroke-width="16" stroke-linejoin="round" points="70.7,327.4 87.5,282.6 121.1,249.0 177.1,243.4 233.1,254.6 283.5,282.6 322.7,316.2 339.5,361.0 322.7,405.8 283.5,439.4 233.1,461.8 177.1,461.8 121.1,439.4 81.9,394.6"/>
<polygon fill="#100818" points="195,150 220,160 215,210 195,230 185,200"/>
<polygon fill="#100818" points="265,230 300,225 305,280 275,300"/>
<line x1="205" y1="110" x2="205" y2="230" stroke="#100818" stroke-width="12" stroke-linecap="round"/>
<line x1="150" y1="257" x2="290" y2="257" stroke="#100818" stroke-width="10" stroke-linecap="round"/>
<line x1="280" y1="290" x2="320" y2="330" stroke="#100818" stroke-width="10" stroke-linecap="round"/>
</g>
</g></g>
<clipPath id="cb13"><rect x="452.9" y="68.5" width="51.10" height="50.00"/></clipPath>
<rect x="452.9" y="68.5" width="51.10" height="50.00" fill="#0b092a"/>
<rect x="453.4" y="69.0" width="50.10" height="49.00" fill="none" stroke="#04031a" stroke-width="1"/>
<g clip-path="url(#cb13)"><g transform="translate(452,68) scale(0.10156)">
<ellipse cx="256" cy="251" rx="190" ry="180" fill="#241a72" filter="url(#fg)"/>
<g filter="url(#fb)">
<polygon fill="url(#g115)" stroke="#a8c098" stroke-width="16" stroke-linejoin="round" points="141.9,91.1 175.5,57.5 214.7,40.7 253.9,40.7 281.9,57.5 287.5,85.5 265.1,102.3 225.9,111.3 181.1,111.3 147.5,107.9"/>
<polygon fill="url(#g116)" stroke="#843a5e" stroke-width="16" stroke-linejoin="round" points="36.0,162.6 52.8,117.8 92.0,95.4 142.4,95.4 181.6,117.8 198.4,162.6 209.6,229.8 204.0,297.0 187.2,353.0 148.0,381.0 97.6,375.4 58.4,347.4 41.6,285.8 36.0,218.6"/>
<polygon fill="url(#g117)" stroke="#843e62" stroke-width="16" stroke-linejoin="round" points="193.3,157.1 232.5,112.3 271.7,95.5 305.3,123.5 310.9,179.5 299.7,235.5 266.1,269.1 221.3,263.5 198.9,224.3"/>
<polygon fill="url(#g118)" stroke="#6f365b" stroke-width="16" stroke-linejoin="round" points="292.5,195.1 337.3,189.5 393.3,217.5 438.1,239.9 438.1,284.7 382.1,284.7 326.1,267.9 292.5,245.5"/>
<polygon fill="url(#g119)" stroke="#843a5e" stroke-width="16" stroke-linejoin="round" points="168.0,327.9 196.0,283.1 252.0,255.1 319.2,243.9 386.4,255.1 442.4,277.5 481.6,327.9 487.2,383.9 459.2,423.1 403.2,439.9 330.4,439.9 263.2,428.7 207.2,406.3 173.6,372.7"/>
<polygon fill="url(#g120)" stroke="#60c878" stroke-width="16" stroke-linejoin="round" points="359.0,146.7 381.4,124.3 399.3,129.9 410.5,163.5 412.7,208.3 395.9,225.1 376.9,225.1 363.4,197.1"/>
<polygon fill="url(#g121)" stroke="#3a6050" stroke-width="16" stroke-linejoin="round" points="145.4,397.1 201.4,397.1 235.0,430.7 201.4,453.1 156.6,441.9"/>
<polygon fill="#100818" points="140,115 230,120 200,150 160,140"/>
<polygon fill="#100818" points="180,235 210,240 210,320 185,330"/>
<line x1="190" y1="130" x2="195" y2="330" stroke="#100818" stroke-width="12" stroke-linecap="round"/>
<line x1="200" y1="285" x2="420" y2="272" stroke="#100818" stroke-width="10" stroke-linecap="round"/>
</g>
</g></g>
<clipPath id="cb20"><rect x="291.8" y="121" width="51.00" height="48.70"/></clipPath>
<rect x="291.8" y="121" width="51.00" height="48.70" fill="#080a18"/>
<rect x="292.3" y="121.5" width="50.00" height="47.70" fill="none" stroke="#04031a" stroke-width="1"/>
<g clip-path="url(#cb20)"><g transform="translate(292,120) scale(0.10156)">
<ellipse cx="256" cy="251" rx="190" ry="180" fill="#14143e" filter="url(#fg)"/>
<g filter="url(#fb)">
<polygon fill="url(#g122)" stroke="#4c2a55" stroke-width="16" stroke-linejoin="round" points="96.3,293.9 129.9,249.1 197.1,226.6 264.3,243.4 331.5,282.6 359.5,338.6 353.9,405.9 309.1,450.6 241.9,473.1 174.7,461.9 129.9,428.2 101.9,361.1"/>
<polygon fill="url(#g123)" stroke="#3f264d" stroke-width="16" stroke-linejoin="round" points="42.3,196.7 87.1,163.1 143.1,163.1 176.7,219.1 165.5,275.1 120.7,297.5 64.7,275.1"/>
<polygon fill="url(#g124)" stroke="#884a71" stroke-width="16" stroke-linejoin="round" points="333.8,96.9 367.4,74.5 401.0,85.7 423.4,141.7 434.6,220.1 445.8,287.3 434.6,343.3 401.0,354.5 367.4,332.1 350.6,276.1 345.0,197.7"/>
<polygon fill="url(#g125)" stroke="#7b3e69" stroke-width="16" stroke-linejoin="round" points="326.9,235.2 360.5,224.0 382.9,280.0 371.7,336.0 338.1,324.8"/>
<polygon fill="url(#g126)" stroke="#90c8a0" stroke-width="16" stroke-linejoin="round" points="221.7,134.1 255.3,89.3 300.1,72.5 344.9,89.3 367.3,145.3 372.9,212.5 356.1,268.5 322.5,296.5 277.7,296.5 244.1,268.5 232.9,212.5"/>
<polygon fill="url(#g127)" stroke="#38d880" stroke-width="16" stroke-linejoin="round" points="51.1,144.1 73.5,110.5 107.2,93.7 140.8,76.8 163.2,43.2 191.2,32.0 207.9,54.4 196.8,99.2 174.3,132.8 140.8,155.2 95.9,166.4 62.3,166.4"/>
<polygon fill="url(#g128)" stroke="#38d880" stroke-width="16" stroke-linejoin="round" points="324.2,53.0 369.0,41.8 413.8,58.6 425.0,92.2 391.4,97.8 346.6,86.6"/>
<line x1="100" y1="130" x2="250" y2="220" stroke="#40c880" stroke-width="18" stroke-linecap="round"/>
<polygon fill="url(#g129)" stroke="#40e898" stroke-width="16" stroke-linejoin="round" points="349.9,359.1 389.1,336.7 433.9,336.7 450.7,370.3 422.7,392.7 377.9,392.7 355.5,381.5"/>
</g>
<g filter="url(#fa)"><line x1="180" y1="320" x2="240" y2="270" stroke="#3a3010" stroke-width="24" stroke-linecap="round"/><line x1="180" y1="320" x2="240" y2="270" stroke="#f4e030" stroke-width="16" stroke-linecap="round"/></g>
</g></g>
<clipPath id="cb21"><rect x="346.1" y="121" width="50.50" height="48.70"/></clipPath>
<rect x="346.1" y="121" width="50.50" height="48.70" fill="#090a1a"/>
<rect x="346.6" y="121.5" width="49.50" height="47.70" fill="none" stroke="#04031a" stroke-width="1"/>
<g clip-path="url(#cb21)"><g transform="translate(346,120) scale(0.10156)">
<ellipse cx="256" cy="251" rx="190" ry="180" fill="#14143e" filter="url(#fg)"/>
<g filter="url(#fb)">
<polygon fill="url(#g130)" stroke="#78466d" stroke-width="16" stroke-linejoin="round" points="147.9,117.0 170.3,72.2 215.1,44.2 271.1,38.6 327.1,61.0 371.9,94.6 388.7,150.6 371.9,206.6 327.1,240.2 271.1,251.4 215.1,240.2 170.3,206.6 147.9,161.8"/>
<polygon fill="url(#g131)" stroke="#452751" stroke-width="16" stroke-linejoin="round" points="133.7,241.6 200.9,230.4 245.7,264.0 245.7,331.2 212.1,398.4 167.3,409.6 144.9,364.8"/>
<polygon fill="url(#g132)" stroke="#884a75" stroke-width="16" stroke-linejoin="round" points="211.2,297.0 233.6,241.0 284.0,207.4 340.0,190.6 396.0,196.2 440.8,229.8 468.8,285.8 468.8,353.0 440.8,409.0 396.0,442.6 340.0,459.4 284.0,453.8 239.2,420.2 216.8,364.2"/>
<polygon fill="url(#g133)" stroke="#48e080" stroke-width="16" stroke-linejoin="round" points="44.0,204.2 77.6,198.6 111.2,226.6 133.6,265.8 156.0,288.2 189.6,293.8 184.0,344.2 167.2,389.0 133.6,394.6 88.8,377.8 44.0,366.6 16.0,355.4 38.4,321.8 66.4,299.4 55.2,254.6"/>
</g>
<g filter="url(#fa)"><line x1="300" y1="215" x2="340" y2="150" stroke="#3a3010" stroke-width="24" stroke-linecap="round"/><line x1="300" y1="215" x2="340" y2="150" stroke="#f4e030" stroke-width="16" stroke-linecap="round"/></g>
</g></g>
<clipPath id="cb22"><rect x="399.3" y="121" width="50.90" height="48.70"/></clipPath>
<rect x="399.3" y="121" width="50.90" height="48.70" fill="#070a14"/>
<rect x="399.8" y="121.5" width="49.90" height="47.70" fill="none" stroke="#04031a" stroke-width="1"/>
<g clip-path="url(#cb22)"><g transform="translate(399,120) scale(0.10156)">
<ellipse cx="256" cy="251" rx="190" ry="180" fill="#14143e" filter="url(#fg)"/>
<g filter="url(#fb)">
<polygon fill="url(#g134)" stroke="#552c55" stroke-width="16" stroke-linejoin="round" points="48.5,162.3 70.9,106.3 115.7,67.1 171.7,50.3 227.7,61.5 261.3,106.3 255.7,162.3 227.7,207.1 171.7,223.9 104.5,207.1 59.7,190.3"/>
<polygon fill="url(#g135)" stroke="#3a9a68" stroke-width="16" stroke-linejoin="round" points="248.6,57.4 287.8,35.0 332.6,35.0 366.2,57.4 360.6,96.6 321.4,119.0 287.8,141.4 259.8,113.4"/>
<polygon fill="url(#g136)" stroke="#66305f" stroke-width="16" stroke-linejoin="round" points="259.2,180.2 304.0,146.6 360.0,135.4 416.0,146.6 466.4,180.2 477.6,247.4 466.4,314.6 432.8,370.6 382.4,409.8 326.4,415.4 281.6,393.0 259.2,337.0 253.6,258.6"/>
<polygon fill="url(#g137)" stroke="#66305d" stroke-width="16" stroke-linejoin="round" points="137.8,302.4 193.8,280.0 261.0,291.2 305.8,324.8 350.6,369.6 356.2,425.6 317.0,453.6 249.8,459.2 193.8,436.8 149.0,392.0"/>
<polygon fill="url(#g138)" stroke="#48f090" stroke-width="16" stroke-linejoin="round" points="60.0,242.7 82.4,225.9 121.6,225.9 149.6,253.9 155.2,309.9 149.6,365.9 132.8,393.9 88.0,399.5 65.6,377.1 60.0,309.9"/>
<line x1="160" y1="280" x2="270" y2="240" stroke="#608080" stroke-width="6" stroke-linecap="round"/>
</g>
<g filter="url(#fa)"><line x1="310" y1="235" x2="390" y2="225" stroke="#3a3010" stroke-width="26" stroke-linecap="round"/><line x1="310" y1="235" x2="390" y2="225" stroke="#f4e030" stroke-width="18" stroke-linecap="round"/></g>
</g></g>
<clipPath id="cb23"><rect x="452.9" y="121" width="51.10" height="48.70"/></clipPath>
<rect x="452.9" y="121" width="51.10" height="48.70" fill="#0c0a20"/>
<rect x="453.4" y="121.5" width="50.10" height="47.70" fill="none" stroke="#04031a" stroke-width="1"/>
<g clip-path="url(#cb23)"><g transform="translate(452,120) scale(0.10156)">
<ellipse cx="256" cy="251" rx="190" ry="180" fill="#14143e" filter="url(#fg)"/>
<g filter="url(#fb)">
<polygon fill="url(#g139)" stroke="#883e65" stroke-width="16" stroke-linejoin="round" points="157.5,184.0 179.9,128.0 213.5,88.8 258.3,49.6 303.1,27.2 347.9,38.4 375.9,83.2 381.5,150.4 364.7,206.4 325.5,240.0 269.5,251.2 213.5,240.0 174.3,223.2"/>
<polygon fill="url(#g140)" stroke="#803961" stroke-width="16" stroke-linejoin="round" points="70.3,222.6 98.3,194.6 131.9,194.6 154.3,233.8 159.9,289.8 154.3,345.8 131.9,390.6 98.3,396.2 75.9,357.0 64.7,289.8"/>
<polygon fill="url(#g141)" stroke="#4c2755" stroke-width="16" stroke-linejoin="round" points="138.5,333.5 194.5,311.1 261.7,322.3 328.9,367.1 351.3,423.1 328.9,456.7 261.7,467.9 194.5,456.7 149.7,411.9"/>
<polygon fill="url(#g142)" stroke="#48e090" stroke-width="16" stroke-linejoin="round" points="20.3,235.2 48.3,218.4 76.3,240.8 98.7,291.2 93.1,336.0 70.7,336.0 42.7,302.4"/>
<polygon fill="url(#g143)" stroke="#48d080" stroke-width="16" stroke-linejoin="round" points="391.7,82.4 419.7,65.6 447.7,82.4 458.9,121.6 442.1,144.0 408.5,138.4 391.7,110.4"/>
<polygon fill="url(#g144)" stroke="#48e088" stroke-width="16" stroke-linejoin="round" points="399.4,295.7 438.6,290.1 483.4,306.9 505.8,346.1 483.4,374.1 438.6,379.7 410.6,357.3"/>
<polygon fill="url(#g145)" stroke="#a8d088" stroke-width="16" stroke-linejoin="round" points="288.0,267.1 316.0,222.3 360.8,211.1 405.6,233.5 428.0,278.3 422.4,334.3 388.8,367.9 338.4,379.1 299.2,345.5 282.4,300.7"/>
<line x1="330" y1="250" x2="440" y2="160" stroke="#50c080" stroke-width="8" stroke-linecap="round"/>
</g>
<g filter="url(#fa)"><line x1="260" y1="300" x2="245" y2="370" stroke="#3a3010" stroke-width="24" stroke-linecap="round"/><line x1="260" y1="300" x2="245" y2="370" stroke="#f4e030" stroke-width="16" stroke-linecap="round"/></g>
</g></g>
<rect x="63.8" y="312.8" width="23.90" height="27.50" fill="#a48bd4"/>
<rect x="107.2" y="306.9" width="24.05" height="33.40" fill="#a48bd4"/>
<rect x="150.3" y="276.3" width="24.10" height="64.00" fill="#a48bd4"/>
<rect x="194" y="232.5" width="24.00" height="107.80" fill="#a48bd4"/>
<line x1="42.6" y1="312.8" x2="218.8" y2="312.8" stroke="#111" stroke-width="1.4" stroke-dasharray="3 2.6"/>
<line x1="75.75" y1="312.8" x2="75.75" y2="308.4" stroke="#222" stroke-width="1"/>
<line x1="73.15" y1="308.4" x2="78.35" y2="308.4" stroke="#222" stroke-width="1"/>
<text x="75.75" y="305.5" font-size="8.4" font-weight="normal" text-anchor="middle" fill="#222" textLength="10" lengthAdjust="spacingAndGlyphs" stroke="#222" stroke-width="0.2">cd</text>
<line x1="119.225" y1="306.9" x2="119.225" y2="302.2" stroke="#222" stroke-width="1"/>
<line x1="116.625" y1="302.2" x2="121.82499999999999" y2="302.2" stroke="#222" stroke-width="1"/>
<text x="119.225" y="299.3" font-size="8.4" font-weight="normal" text-anchor="middle" fill="#222" stroke="#222" stroke-width="0.2">c</text>
<line x1="162.35000000000002" y1="276.3" x2="162.35000000000002" y2="271.6" stroke="#222" stroke-width="1"/>
<line x1="159.75000000000003" y1="271.6" x2="164.95000000000002" y2="271.6" stroke="#222" stroke-width="1"/>
<text x="162.35000000000002" y="268.70000000000005" font-size="8.4" font-weight="normal" text-anchor="middle" fill="#222" stroke="#222" stroke-width="0.2">b</text>
<line x1="206.0" y1="232.5" x2="206.0" y2="228.4" stroke="#222" stroke-width="1"/>
<line x1="203.4" y1="228.4" x2="208.6" y2="228.4" stroke="#222" stroke-width="1"/>
<text x="206.0" y="225.5" font-size="8.4" font-weight="normal" text-anchor="middle" fill="#222" stroke="#222" stroke-width="0.2">a</text>
<line x1="51.5" y1="221" x2="51.5" y2="340.90000000000003" stroke="#111" stroke-width="1.1"/>
<line x1="51.0" y1="340.3" x2="230.6" y2="340.3" stroke="#111" stroke-width="1.2"/>
<line x1="48.3" y1="232.3" x2="51.5" y2="232.3" stroke="#111" stroke-width="1.1"/>
<text x="46.5" y="235.75" font-size="9.4" font-weight="normal" text-anchor="end" fill="#3a3a3a" textLength="11.4" lengthAdjust="spacingAndGlyphs" stroke="#3a3a3a" stroke-width="0.25">1.0</text>
<line x1="48.3" y1="286.3" x2="51.5" y2="286.3" stroke="#111" stroke-width="1.1"/>
<text x="46.5" y="289.75" font-size="9.4" font-weight="normal" text-anchor="end" fill="#3a3a3a" textLength="11.4" lengthAdjust="spacingAndGlyphs" stroke="#3a3a3a" stroke-width="0.25">0.5</text>
<line x1="48.3" y1="340.3" x2="51.5" y2="340.3" stroke="#111" stroke-width="1.1"/>
<text x="46.5" y="343.75" font-size="9.4" font-weight="normal" text-anchor="end" fill="#3a3a3a" textLength="11.4" lengthAdjust="spacingAndGlyphs" stroke="#3a3a3a" stroke-width="0.25">0.0</text>
<text transform="translate(68.7,357) rotate(-42)" font-size="8.4" font-weight="bold" fill="#222" stroke="#222" stroke-width="0.4">C<tspan font-size="6.6" fill="#aaa" stroke="#888" stroke-width="0.35" dy="0.8">60</tspan></text>
<text transform="translate(114.5,357) rotate(-42)" font-size="8.4" font-weight="bold" text-anchor="start" fill="#222"  stroke="#222" stroke-width="0.4">Fe</text>
<text transform="translate(157,357) rotate(-42)" font-size="8.4" font-weight="bold" text-anchor="start" fill="#222"  stroke="#222" stroke-width="0.4">Zn</text>
<text transform="translate(200.5,357) rotate(-42)" font-size="8.4" font-weight="bold" text-anchor="start" fill="#222"  stroke="#222" stroke-width="0.4">CK</text>
<text transform="translate(30.5,281) rotate(-90)" font-size="8.1" font-weight="bold" text-anchor="middle" fill="#1a1a1a" textLength="103.5" lengthAdjust="spacingAndGlyphs" stroke="#1a1a1a" stroke-width="0.28">Relative viral accumulation</text>
<rect x="334" y="309.7" width="24.00" height="30.60" fill="#a48bd4"/>
<rect x="377.6" y="261.4" width="23.90" height="78.90" fill="#a48bd4"/>
<rect x="421.3" y="242.4" width="23.60" height="97.90" fill="#a48bd4"/>
<rect x="465.2" y="232.3" width="23.30" height="108.00" fill="#a48bd4"/>
<line x1="312.3" y1="309.5" x2="488.5" y2="309.5" stroke="#111" stroke-width="1.4" stroke-dasharray="3 2.6"/>
<line x1="346.0" y1="309.7" x2="346.0" y2="303.4" stroke="#222" stroke-width="1"/>
<line x1="343.4" y1="303.4" x2="348.6" y2="303.4" stroke="#222" stroke-width="1"/>
<text x="346.0" y="300.5" font-size="8.4" font-weight="normal" text-anchor="middle" fill="#222" stroke="#222" stroke-width="0.2">d</text>
<line x1="389.55" y1="261.4" x2="389.55" y2="256.1" stroke="#222" stroke-width="1"/>
<line x1="386.95" y1="256.1" x2="392.15000000000003" y2="256.1" stroke="#222" stroke-width="1"/>
<text x="389.55" y="253.20000000000002" font-size="8.4" font-weight="normal" text-anchor="middle" fill="#222" stroke="#222" stroke-width="0.2">c</text>
<line x1="433.1" y1="242.4" x2="433.1" y2="234.8" stroke="#222" stroke-width="1"/>
<line x1="430.5" y1="234.8" x2="435.70000000000005" y2="234.8" stroke="#222" stroke-width="1"/>
<text x="433.1" y="231.9" font-size="8.4" font-weight="normal" text-anchor="middle" fill="#222" textLength="10" lengthAdjust="spacingAndGlyphs" stroke="#222" stroke-width="0.2">ab</text>
<line x1="476.85" y1="232.3" x2="476.85" y2="224.4" stroke="#222" stroke-width="1"/>
<line x1="474.25" y1="224.4" x2="479.45000000000005" y2="224.4" stroke="#222" stroke-width="1"/>
<text x="476.85" y="221.5" font-size="8.4" font-weight="normal" text-anchor="middle" fill="#222" stroke="#222" stroke-width="0.2">a</text>
<line x1="321.6" y1="221.2" x2="321.6" y2="340.90000000000003" stroke="#111" stroke-width="1.1"/>
<line x1="321.1" y1="340.3" x2="501.5" y2="340.3" stroke="#111" stroke-width="1.2"/>
<line x1="318.40000000000003" y1="232.3" x2="321.6" y2="232.3" stroke="#111" stroke-width="1.1"/>
<text x="316.6" y="235.75" font-size="9.4" font-weight="normal" text-anchor="end" fill="#3a3a3a" textLength="11.4" lengthAdjust="spacingAndGlyphs" stroke="#3a3a3a" stroke-width="0.25">1.0</text>
<line x1="318.40000000000003" y1="286.3" x2="321.6" y2="286.3" stroke="#111" stroke-width="1.1"/>
<text x="316.6" y="289.75" font-size="9.4" font-weight="normal" text-anchor="end" fill="#3a3a3a" textLength="11.4" lengthAdjust="spacingAndGlyphs" stroke="#3a3a3a" stroke-width="0.25">0.5</text>
<line x1="318.40000000000003" y1="340.3" x2="321.6" y2="340.3" stroke="#111" stroke-width="1.1"/>
<text x="316.6" y="343.75" font-size="9.4" font-weight="normal" text-anchor="end" fill="#3a3a3a" textLength="11.4" lengthAdjust="spacingAndGlyphs" stroke="#3a3a3a" stroke-width="0.25">0.0</text>
<text transform="translate(339.2,357) rotate(-42)" font-size="8.4" font-weight="bold" fill="#222" stroke="#222" stroke-width="0.4">C<tspan font-size="6.6" fill="#aaa" stroke="#888" stroke-width="0.35" dy="0.8">60</tspan></text>
<text transform="translate(384.5,357) rotate(-42)" font-size="8.4" font-weight="bold" text-anchor="start" fill="#222"  stroke="#222" stroke-width="0.4">Fe</text>
<text transform="translate(428,357) rotate(-42)" font-size="8.4" font-weight="bold" text-anchor="start" fill="#222"  stroke="#222" stroke-width="0.4">Zn</text>
<text transform="translate(471.5,357) rotate(-42)" font-size="8.4" font-weight="bold" text-anchor="start" fill="#222"  stroke="#222" stroke-width="0.4">CK</text>
<text transform="translate(301.6,281.5) rotate(-90)" font-size="8.1" font-weight="bold" text-anchor="middle" fill="#1a1a1a" textLength="103.5" lengthAdjust="spacingAndGlyphs" stroke="#1a1a1a" stroke-width="0.28">Relative viral accumulation</text>
<line x1="52.6" y1="379.6" x2="52.6" y2="528.4" stroke="#111" stroke-width="1.2"/>
<line x1="52.6" y1="528.4" x2="254.70" y2="528.4" stroke="#111" stroke-width="1.2"/>
<line x1="49.6" y1="528.40" x2="52.6" y2="528.40" stroke="#111" stroke-width="1.1"/>
<text x="44.2" y="531.1999999999999" font-size="8.2" font-weight="bold" text-anchor="end" fill="#333" textLength="4.4" lengthAdjust="spacingAndGlyphs"  stroke="#333" stroke-width="0.4">0</text>
<line x1="49.6" y1="507.20" x2="52.6" y2="507.20" stroke="#111" stroke-width="1.1"/>
<text x="44.2" y="510.0" font-size="8.2" font-weight="bold" text-anchor="end" fill="#333" textLength="9" lengthAdjust="spacingAndGlyphs"  stroke="#333" stroke-width="0.4">10</text>
<line x1="49.6" y1="486.00" x2="52.6" y2="486.00" stroke="#111" stroke-width="1.1"/>
<text x="44.2" y="488.8" font-size="8.2" font-weight="bold" text-anchor="end" fill="#333" textLength="9" lengthAdjust="spacingAndGlyphs"  stroke="#333" stroke-width="0.4">20</text>
<line x1="49.6" y1="464.80" x2="52.6" y2="464.80" stroke="#111" stroke-width="1.1"/>
<text x="44.2" y="467.59999999999997" font-size="8.2" font-weight="bold" text-anchor="end" fill="#333" textLength="9" lengthAdjust="spacingAndGlyphs"  stroke="#333" stroke-width="0.4">30</text>
<line x1="49.6" y1="443.60" x2="52.6" y2="443.60" stroke="#111" stroke-width="1.1"/>
<text x="44.2" y="446.4" font-size="8.2" font-weight="bold" text-anchor="end" fill="#333" textLength="9" lengthAdjust="spacingAndGlyphs"  stroke="#333" stroke-width="0.4">40</text>
<line x1="49.6" y1="422.40" x2="52.6" y2="422.40" stroke="#111" stroke-width="1.1"/>
<text x="44.2" y="425.2" font-size="8.2" font-weight="bold" text-anchor="end" fill="#333" textLength="9" lengthAdjust="spacingAndGlyphs"  stroke="#333" stroke-width="0.4">50</text>
<line x1="49.6" y1="401.20" x2="52.6" y2="401.20" stroke="#111" stroke-width="1.1"/>
<text x="44.2" y="404.0" font-size="8.2" font-weight="bold" text-anchor="end" fill="#333" textLength="9" lengthAdjust="spacingAndGlyphs"  stroke="#333" stroke-width="0.4">60</text>
<line x1="49.6" y1="380.00" x2="52.6" y2="380.00" stroke="#111" stroke-width="1.1"/>
<text x="44.2" y="382.8" font-size="8.2" font-weight="bold" text-anchor="end" fill="#333" textLength="9" lengthAdjust="spacingAndGlyphs"  stroke="#333" stroke-width="0.4">70</text>
<line x1="52.60" y1="528.4" x2="52.60" y2="531.6" stroke="#111" stroke-width="1.1"/>
<line x1="67.00" y1="528.4" x2="67.00" y2="531.6" stroke="#111" stroke-width="1.1"/>
<line x1="81.40" y1="528.4" x2="81.40" y2="531.6" stroke="#111" stroke-width="1.1"/>
<line x1="95.80" y1="528.4" x2="95.80" y2="531.6" stroke="#111" stroke-width="1.1"/>
<line x1="110.20" y1="528.4" x2="110.20" y2="531.6" stroke="#111" stroke-width="1.1"/>
<line x1="124.60" y1="528.4" x2="124.60" y2="531.6" stroke="#111" stroke-width="1.1"/>
<line x1="139.00" y1="528.4" x2="139.00" y2="531.6" stroke="#111" stroke-width="1.1"/>
<line x1="153.40" y1="528.4" x2="153.40" y2="531.6" stroke="#111" stroke-width="1.1"/>
<line x1="167.80" y1="528.4" x2="167.80" y2="531.6" stroke="#111" stroke-width="1.1"/>
<line x1="182.20" y1="528.4" x2="182.20" y2="531.6" stroke="#111" stroke-width="1.1"/>
<line x1="196.60" y1="528.4" x2="196.60" y2="531.6" stroke="#111" stroke-width="1.1"/>
<line x1="211.00" y1="528.4" x2="211.00" y2="531.6" stroke="#111" stroke-width="1.1"/>
<line x1="225.40" y1="528.4" x2="225.40" y2="531.6" stroke="#111" stroke-width="1.1"/>
<line x1="239.80" y1="528.4" x2="239.80" y2="531.6" stroke="#111" stroke-width="1.1"/>
<line x1="254.20" y1="528.4" x2="254.20" y2="531.6" stroke="#111" stroke-width="1.1"/>
<text x="67.0" y="543.9" font-size="9" font-weight="bold" text-anchor="middle" fill="#333" textLength="5" lengthAdjust="spacingAndGlyphs"  stroke="#333" stroke-width="0.4">0</text>
<text x="95.8" y="543.9" font-size="9" font-weight="bold" text-anchor="middle" fill="#333" textLength="5" lengthAdjust="spacingAndGlyphs"  stroke="#333" stroke-width="0.4">2</text>
<text x="124.6" y="543.9" font-size="9" font-weight="bold" text-anchor="middle" fill="#333" textLength="5" lengthAdjust="spacingAndGlyphs"  stroke="#333" stroke-width="0.4">4</text>
<text x="153.4" y="543.9" font-size="9" font-weight="bold" text-anchor="middle" fill="#333" textLength="5" lengthAdjust="spacingAndGlyphs"  stroke="#333" stroke-width="0.4">6</text>
<text x="182.2" y="543.9" font-size="9" font-weight="bold" text-anchor="middle" fill="#333" textLength="5" lengthAdjust="spacingAndGlyphs"  stroke="#333" stroke-width="0.4">8</text>
<text x="211.0" y="543.9" font-size="9" font-weight="bold" text-anchor="middle" fill="#333" textLength="8.8" lengthAdjust="spacingAndGlyphs"  stroke="#333" stroke-width="0.4">10</text>
<text x="239.8" y="543.9" font-size="9" font-weight="bold" text-anchor="middle" fill="#333" textLength="8.8" lengthAdjust="spacingAndGlyphs"  stroke="#333" stroke-width="0.4">12</text>
<line x1="95.80" y1="481.34" x2="95.80" y2="486.42" stroke="#999" stroke-width="0.9"/>
<line x1="93.80" y1="481.34" x2="97.80" y2="481.34" stroke="#999" stroke-width="0.9"/>
<line x1="93.80" y1="486.42" x2="97.80" y2="486.42" stroke="#999" stroke-width="0.9"/>
<line x1="124.60" y1="463.53" x2="124.60" y2="474.13" stroke="#999" stroke-width="0.9"/>
<line x1="122.60" y1="463.53" x2="126.60" y2="463.53" stroke="#999" stroke-width="0.9"/>
<line x1="122.60" y1="474.13" x2="126.60" y2="474.13" stroke="#999" stroke-width="0.9"/>
<line x1="153.40" y1="439.78" x2="153.40" y2="452.50" stroke="#999" stroke-width="0.9"/>
<line x1="151.40" y1="439.78" x2="155.40" y2="439.78" stroke="#999" stroke-width="0.9"/>
<line x1="151.40" y1="452.50" x2="155.40" y2="452.50" stroke="#999" stroke-width="0.9"/>
<line x1="182.20" y1="432.58" x2="182.20" y2="447.42" stroke="#999" stroke-width="0.9"/>
<line x1="180.20" y1="432.58" x2="184.20" y2="432.58" stroke="#999" stroke-width="0.9"/>
<line x1="180.20" y1="447.42" x2="184.20" y2="447.42" stroke="#999" stroke-width="0.9"/>
<line x1="211.00" y1="426.22" x2="211.00" y2="438.94" stroke="#999" stroke-width="0.9"/>
<line x1="209.00" y1="426.22" x2="213.00" y2="426.22" stroke="#999" stroke-width="0.9"/>
<line x1="209.00" y1="438.94" x2="213.00" y2="438.94" stroke="#999" stroke-width="0.9"/>
<line x1="239.80" y1="390.81" x2="239.80" y2="414.13" stroke="#999" stroke-width="0.9"/>
<line x1="237.80" y1="390.81" x2="241.80" y2="390.81" stroke="#999" stroke-width="0.9"/>
<line x1="237.80" y1="414.13" x2="241.80" y2="414.13" stroke="#999" stroke-width="0.9"/>
<line x1="95.80" y1="483.46" x2="95.80" y2="489.82" stroke="#999" stroke-width="0.9"/>
<line x1="93.80" y1="483.46" x2="97.80" y2="483.46" stroke="#999" stroke-width="0.9"/>
<line x1="93.80" y1="489.82" x2="97.80" y2="489.82" stroke="#999" stroke-width="0.9"/>
<line x1="124.60" y1="469.25" x2="124.60" y2="479.85" stroke="#999" stroke-width="0.9"/>
<line x1="122.60" y1="469.25" x2="126.60" y2="469.25" stroke="#999" stroke-width="0.9"/>
<line x1="122.60" y1="479.85" x2="126.60" y2="479.85" stroke="#999" stroke-width="0.9"/>
<line x1="153.40" y1="451.44" x2="153.40" y2="459.92" stroke="#999" stroke-width="0.9"/>
<line x1="151.40" y1="451.44" x2="155.40" y2="451.44" stroke="#999" stroke-width="0.9"/>
<line x1="151.40" y1="459.92" x2="155.40" y2="459.92" stroke="#999" stroke-width="0.9"/>
<line x1="182.20" y1="448.90" x2="182.20" y2="458.23" stroke="#999" stroke-width="0.9"/>
<line x1="180.20" y1="448.90" x2="184.20" y2="448.90" stroke="#999" stroke-width="0.9"/>
<line x1="180.20" y1="458.23" x2="184.20" y2="458.23" stroke="#999" stroke-width="0.9"/>
<line x1="211.00" y1="431.94" x2="211.00" y2="440.42" stroke="#999" stroke-width="0.9"/>
<line x1="209.00" y1="431.94" x2="213.00" y2="431.94" stroke="#999" stroke-width="0.9"/>
<line x1="209.00" y1="440.42" x2="213.00" y2="440.42" stroke="#999" stroke-width="0.9"/>
<line x1="239.80" y1="410.32" x2="239.80" y2="423.04" stroke="#999" stroke-width="0.9"/>
<line x1="237.80" y1="410.32" x2="241.80" y2="410.32" stroke="#999" stroke-width="0.9"/>
<line x1="237.80" y1="423.04" x2="241.80" y2="423.04" stroke="#999" stroke-width="0.9"/>
<line x1="95.80" y1="487.27" x2="95.80" y2="495.75" stroke="#999" stroke-width="0.9"/>
<line x1="93.80" y1="487.27" x2="97.80" y2="487.27" stroke="#999" stroke-width="0.9"/>
<line x1="93.80" y1="495.75" x2="97.80" y2="495.75" stroke="#999" stroke-width="0.9"/>
<line x1="124.60" y1="481.97" x2="124.60" y2="488.33" stroke="#999" stroke-width="0.9"/>
<line x1="122.60" y1="481.97" x2="126.60" y2="481.97" stroke="#999" stroke-width="0.9"/>
<line x1="122.60" y1="488.33" x2="126.60" y2="488.33" stroke="#999" stroke-width="0.9"/>
<line x1="153.40" y1="474.55" x2="153.40" y2="483.03" stroke="#999" stroke-width="0.9"/>
<line x1="151.40" y1="474.55" x2="155.40" y2="474.55" stroke="#999" stroke-width="0.9"/>
<line x1="151.40" y1="483.03" x2="155.40" y2="483.03" stroke="#999" stroke-width="0.9"/>
<line x1="182.20" y1="472.01" x2="182.20" y2="480.49" stroke="#999" stroke-width="0.9"/>
<line x1="180.20" y1="472.01" x2="184.20" y2="472.01" stroke="#999" stroke-width="0.9"/>
<line x1="180.20" y1="480.49" x2="184.20" y2="480.49" stroke="#999" stroke-width="0.9"/>
<line x1="211.00" y1="461.20" x2="211.00" y2="469.68" stroke="#999" stroke-width="0.9"/>
<line x1="209.00" y1="461.20" x2="213.00" y2="461.20" stroke="#999" stroke-width="0.9"/>
<line x1="209.00" y1="469.68" x2="213.00" y2="469.68" stroke="#999" stroke-width="0.9"/>
<line x1="239.80" y1="442.33" x2="239.80" y2="455.05" stroke="#999" stroke-width="0.9"/>
<line x1="237.80" y1="442.33" x2="241.80" y2="442.33" stroke="#999" stroke-width="0.9"/>
<line x1="237.80" y1="455.05" x2="241.80" y2="455.05" stroke="#999" stroke-width="0.9"/>
<line x1="95.80" y1="495.33" x2="95.80" y2="503.81" stroke="#999" stroke-width="0.9"/>
<line x1="93.80" y1="495.33" x2="97.80" y2="495.33" stroke="#999" stroke-width="0.9"/>
<line x1="93.80" y1="503.81" x2="97.80" y2="503.81" stroke="#999" stroke-width="0.9"/>
<line x1="124.60" y1="485.36" x2="124.60" y2="491.72" stroke="#999" stroke-width="0.9"/>
<line x1="122.60" y1="485.36" x2="126.60" y2="485.36" stroke="#999" stroke-width="0.9"/>
<line x1="122.60" y1="491.72" x2="126.60" y2="491.72" stroke="#999" stroke-width="0.9"/>
<line x1="153.40" y1="480.49" x2="153.40" y2="491.09" stroke="#999" stroke-width="0.9"/>
<line x1="151.40" y1="480.49" x2="155.40" y2="480.49" stroke="#999" stroke-width="0.9"/>
<line x1="151.40" y1="491.09" x2="155.40" y2="491.09" stroke="#999" stroke-width="0.9"/>
<line x1="182.20" y1="481.76" x2="182.20" y2="492.36" stroke="#999" stroke-width="0.9"/>
<line x1="180.20" y1="481.76" x2="184.20" y2="481.76" stroke="#999" stroke-width="0.9"/>
<line x1="180.20" y1="492.36" x2="184.20" y2="492.36" stroke="#999" stroke-width="0.9"/>
<line x1="211.00" y1="477.10" x2="211.00" y2="484.73" stroke="#999" stroke-width="0.9"/>
<line x1="209.00" y1="477.10" x2="213.00" y2="477.10" stroke="#999" stroke-width="0.9"/>
<line x1="209.00" y1="484.73" x2="213.00" y2="484.73" stroke="#999" stroke-width="0.9"/>
<line x1="239.80" y1="470.52" x2="239.80" y2="483.24" stroke="#999" stroke-width="0.9"/>
<line x1="237.80" y1="470.52" x2="241.80" y2="470.52" stroke="#999" stroke-width="0.9"/>
<line x1="237.80" y1="483.24" x2="241.80" y2="483.24" stroke="#999" stroke-width="0.9"/>
<polyline points="67.00,528.40 95.80,483.88 124.60,468.83 153.40,446.14 182.20,440.00 211.00,432.58 239.80,402.47" fill="none" stroke="#4472c4" stroke-width="2.4" stroke-linejoin="round"/>
<polyline points="67.00,528.40 95.80,499.57 124.60,488.54 153.40,485.79 182.20,487.06 211.00,480.91 239.80,476.88" fill="none" stroke="#ee1111" stroke-width="2.4" stroke-linejoin="round"/>
<polyline points="67.00,528.40 95.80,491.51 124.60,485.15 153.40,478.79 182.20,476.25 211.00,465.44 239.80,448.69" fill="none" stroke="#00b050" stroke-width="2.4" stroke-linejoin="round"/>
<polyline points="67.00,528.40 95.80,486.64 124.60,474.55 153.40,455.68 182.20,453.56 211.00,436.18 239.80,416.68" fill="none" stroke="#bf9000" stroke-width="2.4" stroke-linejoin="round"/>
<circle cx="67.00" cy="528.40" r="2.85" fill="#000"/>
<circle cx="95.80" cy="483.88" r="2.85" fill="#000"/>
<circle cx="124.60" cy="468.83" r="2.85" fill="#000"/>
<circle cx="153.40" cy="446.14" r="2.85" fill="#000"/>
<circle cx="182.20" cy="440.00" r="2.85" fill="#000"/>
<circle cx="211.00" cy="432.58" r="2.85" fill="#000"/>
<circle cx="239.80" cy="402.47" r="2.85" fill="#000"/>
<circle cx="67.00" cy="528.40" r="2.85" fill="#000"/>
<circle cx="95.80" cy="486.64" r="2.85" fill="#000"/>
<circle cx="124.60" cy="474.55" r="2.85" fill="#000"/>
<circle cx="153.40" cy="455.68" r="2.85" fill="#000"/>
<circle cx="182.20" cy="453.56" r="2.85" fill="#000"/>
<circle cx="211.00" cy="436.18" r="2.85" fill="#000"/>
<circle cx="239.80" cy="416.68" r="2.85" fill="#000"/>
<circle cx="67.00" cy="528.40" r="2.85" fill="#000"/>
<circle cx="95.80" cy="491.51" r="2.85" fill="#000"/>
<circle cx="124.60" cy="485.15" r="2.85" fill="#000"/>
<circle cx="153.40" cy="478.79" r="2.85" fill="#000"/>
<circle cx="182.20" cy="476.25" r="2.85" fill="#000"/>
<circle cx="211.00" cy="465.44" r="2.85" fill="#000"/>
<circle cx="239.80" cy="448.69" r="2.85" fill="#000"/>
<circle cx="67.00" cy="528.40" r="2.85" fill="#000"/>
<circle cx="95.80" cy="499.57" r="2.85" fill="#000"/>
<circle cx="124.60" cy="488.54" r="2.85" fill="#000"/>
<circle cx="153.40" cy="485.79" r="2.85" fill="#000"/>
<circle cx="182.20" cy="487.06" r="2.85" fill="#000"/>
<circle cx="211.00" cy="480.91" r="2.85" fill="#000"/>
<circle cx="239.80" cy="476.88" r="2.85" fill="#000"/>
<line x1="63.4" y1="387.30" x2="82.3" y2="387.30" stroke="#4472c4" stroke-width="2.1"/>
<circle cx="73" cy="387.30" r="2.4" fill="#000"/>
<text x="84" y="390.3" font-size="8.5" font-weight="bold" text-anchor="start" fill="#222" textLength="9.8" lengthAdjust="spacingAndGlyphs"  stroke="#222" stroke-width="0.4">CK</text>
<line x1="63.4" y1="399.87" x2="82.3" y2="399.87" stroke="#ee1111" stroke-width="2.1"/>
<circle cx="73" cy="399.87" r="2.4" fill="#000"/>
<text x="84" y="402.87" font-size="8.5" font-weight="bold" text-anchor="start" fill="#222" textLength="14.5" lengthAdjust="spacingAndGlyphs"  stroke="#222" stroke-width="0.4">C60</text>
<line x1="63.4" y1="412.44" x2="82.3" y2="412.44" stroke="#00b050" stroke-width="2.1"/>
<circle cx="73" cy="412.44" r="2.4" fill="#000"/>
<text x="84" y="415.44" font-size="8.5" font-weight="bold" text-anchor="start" fill="#222" textLength="8.5" lengthAdjust="spacingAndGlyphs"  stroke="#222" stroke-width="0.4">Fe</text>
<line x1="63.4" y1="425.01" x2="82.3" y2="425.01" stroke="#bf9000" stroke-width="2.1"/>
<circle cx="73" cy="425.01" r="2.4" fill="#000"/>
<text x="84" y="428.01" font-size="8.5" font-weight="bold" text-anchor="start" fill="#222" textLength="9.5" lengthAdjust="spacingAndGlyphs"  stroke="#222" stroke-width="0.4">Zn</text>
<text transform="translate(18.1,459.1) rotate(-90)" font-size="14.5" font-weight="normal" text-anchor="middle" fill="#1a1a1a" textLength="163" lengthAdjust="spacingAndGlyphs" stroke="#1a1a1a" stroke-width="0.2">Percent Disease Severity</text>
</svg>
</body></html>
